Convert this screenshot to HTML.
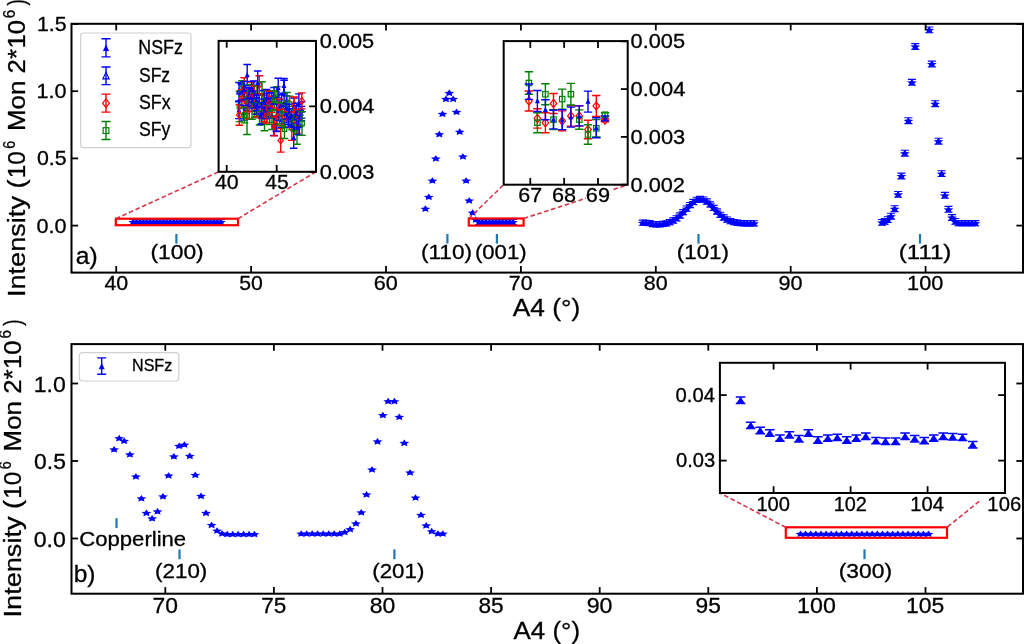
<!DOCTYPE html>
<html><head><meta charset="utf-8"><style>
html,body{margin:0;padding:0;background:#fff;}
svg{display:block;will-change:transform;}
text{font-family:"Liberation Sans", sans-serif;stroke:#000;stroke-width:0.3px;}
</style></head><body>
<svg width="1025" height="644" viewBox="0 0 1025 644">
<rect width="1025" height="644" fill="#fff"/>
<path d="M133.2,218.66 L134.73,220.83 L138.15,221.18 L135.67,222.86 L136.26,225.24 L133.2,224.12 L130.14,225.24 L130.73,222.86 L128.25,221.18 L131.67,220.83Z" fill="#0000ff"/>
<path d="M133.2,219.4V224.6M129.2,219.4H137.2M129.2,224.6H137.2" stroke="#0000ff" stroke-width="1.1" fill="none"/>
<path d="M136.57,218.66 L138.1,220.83 L141.52,221.18 L139.04,222.86 L139.63,225.24 L136.57,224.12 L133.51,225.24 L134.1,222.86 L131.62,221.18 L135.04,220.83Z" fill="#0000ff"/>
<path d="M136.57,219.4V224.6M132.57,219.4H140.57M132.57,224.6H140.57" stroke="#0000ff" stroke-width="1.1" fill="none"/>
<path d="M139.94,218.66 L141.47,220.83 L144.89,221.18 L142.41,222.86 L143,225.24 L139.94,224.12 L136.88,225.24 L137.47,222.86 L134.99,221.18 L138.41,220.83Z" fill="#0000ff"/>
<path d="M139.94,219.4V224.6M135.94,219.4H143.94M135.94,224.6H143.94" stroke="#0000ff" stroke-width="1.1" fill="none"/>
<path d="M143.31,218.66 L144.84,220.83 L148.26,221.18 L145.78,222.86 L146.37,225.24 L143.31,224.12 L140.25,225.24 L140.84,222.86 L138.36,221.18 L141.78,220.83Z" fill="#0000ff"/>
<path d="M143.31,219.4V224.6M139.31,219.4H147.31M139.31,224.6H147.31" stroke="#0000ff" stroke-width="1.1" fill="none"/>
<path d="M146.68,218.66 L148.21,220.83 L151.63,221.18 L149.15,222.86 L149.74,225.24 L146.68,224.12 L143.62,225.24 L144.21,222.86 L141.73,221.18 L145.15,220.83Z" fill="#0000ff"/>
<path d="M146.68,219.4V224.6M142.68,219.4H150.68M142.68,224.6H150.68" stroke="#0000ff" stroke-width="1.1" fill="none"/>
<path d="M150.05,218.66 L151.58,220.83 L155,221.18 L152.52,222.86 L153.11,225.24 L150.05,224.12 L146.99,225.24 L147.58,222.86 L145.1,221.18 L148.52,220.83Z" fill="#0000ff"/>
<path d="M150.05,219.4V224.6M146.05,219.4H154.05M146.05,224.6H154.05" stroke="#0000ff" stroke-width="1.1" fill="none"/>
<path d="M153.42,218.66 L154.95,220.83 L158.37,221.18 L155.89,222.86 L156.48,225.24 L153.42,224.12 L150.36,225.24 L150.95,222.86 L148.47,221.18 L151.89,220.83Z" fill="#0000ff"/>
<path d="M153.42,219.4V224.6M149.42,219.4H157.42M149.42,224.6H157.42" stroke="#0000ff" stroke-width="1.1" fill="none"/>
<path d="M156.79,218.66 L158.32,220.83 L161.74,221.18 L159.26,222.86 L159.85,225.24 L156.79,224.12 L153.73,225.24 L154.32,222.86 L151.84,221.18 L155.26,220.83Z" fill="#0000ff"/>
<path d="M156.79,219.4V224.6M152.79,219.4H160.79M152.79,224.6H160.79" stroke="#0000ff" stroke-width="1.1" fill="none"/>
<path d="M160.16,218.66 L161.69,220.83 L165.11,221.18 L162.63,222.86 L163.22,225.24 L160.16,224.12 L157.1,225.24 L157.69,222.86 L155.21,221.18 L158.63,220.83Z" fill="#0000ff"/>
<path d="M160.16,219.4V224.6M156.16,219.4H164.16M156.16,224.6H164.16" stroke="#0000ff" stroke-width="1.1" fill="none"/>
<path d="M163.53,218.66 L165.06,220.83 L168.48,221.18 L166,222.86 L166.59,225.24 L163.53,224.12 L160.47,225.24 L161.06,222.86 L158.58,221.18 L162,220.83Z" fill="#0000ff"/>
<path d="M163.53,219.4V224.6M159.53,219.4H167.53M159.53,224.6H167.53" stroke="#0000ff" stroke-width="1.1" fill="none"/>
<path d="M166.9,218.66 L168.43,220.83 L171.85,221.18 L169.37,222.86 L169.96,225.24 L166.9,224.12 L163.84,225.24 L164.43,222.86 L161.95,221.18 L165.37,220.83Z" fill="#0000ff"/>
<path d="M166.9,219.4V224.6M162.9,219.4H170.9M162.9,224.6H170.9" stroke="#0000ff" stroke-width="1.1" fill="none"/>
<path d="M170.27,218.66 L171.8,220.83 L175.22,221.18 L172.74,222.86 L173.33,225.24 L170.27,224.12 L167.21,225.24 L167.8,222.86 L165.32,221.18 L168.74,220.83Z" fill="#0000ff"/>
<path d="M170.27,219.4V224.6M166.27,219.4H174.27M166.27,224.6H174.27" stroke="#0000ff" stroke-width="1.1" fill="none"/>
<path d="M173.64,218.66 L175.17,220.83 L178.59,221.18 L176.11,222.86 L176.7,225.24 L173.64,224.12 L170.58,225.24 L171.17,222.86 L168.69,221.18 L172.11,220.83Z" fill="#0000ff"/>
<path d="M173.64,219.4V224.6M169.64,219.4H177.64M169.64,224.6H177.64" stroke="#0000ff" stroke-width="1.1" fill="none"/>
<path d="M177.01,218.66 L178.54,220.83 L181.96,221.18 L179.48,222.86 L180.07,225.24 L177.01,224.12 L173.95,225.24 L174.54,222.86 L172.06,221.18 L175.48,220.83Z" fill="#0000ff"/>
<path d="M177.01,219.4V224.6M173.01,219.4H181.01M173.01,224.6H181.01" stroke="#0000ff" stroke-width="1.1" fill="none"/>
<path d="M180.38,218.66 L181.91,220.83 L185.33,221.18 L182.85,222.86 L183.44,225.24 L180.38,224.12 L177.32,225.24 L177.91,222.86 L175.43,221.18 L178.85,220.83Z" fill="#0000ff"/>
<path d="M180.38,219.4V224.6M176.38,219.4H184.38M176.38,224.6H184.38" stroke="#0000ff" stroke-width="1.1" fill="none"/>
<path d="M183.75,218.66 L185.28,220.83 L188.7,221.18 L186.22,222.86 L186.81,225.24 L183.75,224.12 L180.69,225.24 L181.28,222.86 L178.8,221.18 L182.22,220.83Z" fill="#0000ff"/>
<path d="M183.75,219.4V224.6M179.75,219.4H187.75M179.75,224.6H187.75" stroke="#0000ff" stroke-width="1.1" fill="none"/>
<path d="M187.12,218.66 L188.65,220.83 L192.07,221.18 L189.59,222.86 L190.18,225.24 L187.12,224.12 L184.06,225.24 L184.65,222.86 L182.17,221.18 L185.59,220.83Z" fill="#0000ff"/>
<path d="M187.12,219.4V224.6M183.12,219.4H191.12M183.12,224.6H191.12" stroke="#0000ff" stroke-width="1.1" fill="none"/>
<path d="M190.49,218.66 L192.02,220.83 L195.44,221.18 L192.96,222.86 L193.55,225.24 L190.49,224.12 L187.43,225.24 L188.02,222.86 L185.54,221.18 L188.96,220.83Z" fill="#0000ff"/>
<path d="M190.49,219.4V224.6M186.49,219.4H194.49M186.49,224.6H194.49" stroke="#0000ff" stroke-width="1.1" fill="none"/>
<path d="M193.86,218.66 L195.39,220.83 L198.81,221.18 L196.33,222.86 L196.92,225.24 L193.86,224.12 L190.8,225.24 L191.39,222.86 L188.91,221.18 L192.33,220.83Z" fill="#0000ff"/>
<path d="M193.86,219.4V224.6M189.86,219.4H197.86M189.86,224.6H197.86" stroke="#0000ff" stroke-width="1.1" fill="none"/>
<path d="M197.23,218.66 L198.76,220.83 L202.18,221.18 L199.7,222.86 L200.29,225.24 L197.23,224.12 L194.17,225.24 L194.76,222.86 L192.28,221.18 L195.7,220.83Z" fill="#0000ff"/>
<path d="M197.23,219.4V224.6M193.23,219.4H201.23M193.23,224.6H201.23" stroke="#0000ff" stroke-width="1.1" fill="none"/>
<path d="M200.6,218.66 L202.13,220.83 L205.55,221.18 L203.07,222.86 L203.66,225.24 L200.6,224.12 L197.54,225.24 L198.13,222.86 L195.65,221.18 L199.07,220.83Z" fill="#0000ff"/>
<path d="M200.6,219.4V224.6M196.6,219.4H204.6M196.6,224.6H204.6" stroke="#0000ff" stroke-width="1.1" fill="none"/>
<path d="M203.97,218.66 L205.5,220.83 L208.92,221.18 L206.44,222.86 L207.03,225.24 L203.97,224.12 L200.91,225.24 L201.5,222.86 L199.02,221.18 L202.44,220.83Z" fill="#0000ff"/>
<path d="M203.97,219.4V224.6M199.97,219.4H207.97M199.97,224.6H207.97" stroke="#0000ff" stroke-width="1.1" fill="none"/>
<path d="M207.34,218.66 L208.87,220.83 L212.29,221.18 L209.81,222.86 L210.4,225.24 L207.34,224.12 L204.28,225.24 L204.87,222.86 L202.39,221.18 L205.81,220.83Z" fill="#0000ff"/>
<path d="M207.34,219.4V224.6M203.34,219.4H211.34M203.34,224.6H211.34" stroke="#0000ff" stroke-width="1.1" fill="none"/>
<path d="M210.71,218.66 L212.24,220.83 L215.66,221.18 L213.18,222.86 L213.77,225.24 L210.71,224.12 L207.65,225.24 L208.24,222.86 L205.76,221.18 L209.18,220.83Z" fill="#0000ff"/>
<path d="M210.71,219.4V224.6M206.71,219.4H214.71M206.71,224.6H214.71" stroke="#0000ff" stroke-width="1.1" fill="none"/>
<path d="M214.08,218.66 L215.61,220.83 L219.03,221.18 L216.55,222.86 L217.14,225.24 L214.08,224.12 L211.02,225.24 L211.61,222.86 L209.13,221.18 L212.55,220.83Z" fill="#0000ff"/>
<path d="M214.08,219.4V224.6M210.08,219.4H218.08M210.08,224.6H218.08" stroke="#0000ff" stroke-width="1.1" fill="none"/>
<path d="M217.45,218.66 L218.98,220.83 L222.4,221.18 L219.92,222.86 L220.51,225.24 L217.45,224.12 L214.39,225.24 L214.98,222.86 L212.5,221.18 L215.92,220.83Z" fill="#0000ff"/>
<path d="M217.45,219.4V224.6M213.45,219.4H221.45M213.45,224.6H221.45" stroke="#0000ff" stroke-width="1.1" fill="none"/>
<path d="M220.82,218.66 L222.35,220.83 L225.77,221.18 L223.29,222.86 L223.88,225.24 L220.82,224.12 L217.76,225.24 L218.35,222.86 L215.87,221.18 L219.29,220.83Z" fill="#0000ff"/>
<path d="M220.82,219.4V224.6M216.82,219.4H224.82M216.82,224.6H224.82" stroke="#0000ff" stroke-width="1.1" fill="none"/>
<path d="M425.4,205.36 L426.93,207.53 L430.35,207.88 L427.87,209.56 L428.46,211.94 L425.4,210.82 L422.34,211.94 L422.93,209.56 L420.45,207.88 L423.87,207.53Z" fill="#0000ff"/>
<path d="M428.8,193.46 L430.33,195.63 L433.75,195.98 L431.27,197.66 L431.86,200.04 L428.8,198.92 L425.74,200.04 L426.33,197.66 L423.85,195.98 L427.27,195.63Z" fill="#0000ff"/>
<path d="M432.4,177.26 L433.93,179.43 L437.35,179.78 L434.87,181.46 L435.46,183.84 L432.4,182.72 L429.34,183.84 L429.93,181.46 L427.45,179.78 L430.87,179.43Z" fill="#0000ff"/>
<path d="M435.8,155.16 L437.33,157.33 L440.75,157.68 L438.27,159.36 L438.86,161.74 L435.8,160.62 L432.74,161.74 L433.33,159.36 L430.85,157.68 L434.27,157.33Z" fill="#0000ff"/>
<path d="M439.3,130.86 L440.83,133.03 L444.25,133.38 L441.77,135.06 L442.36,137.44 L439.3,136.32 L436.24,137.44 L436.83,135.06 L434.35,133.38 L437.77,133.03Z" fill="#0000ff"/>
<path d="M442.5,110.46 L444.03,112.63 L447.45,112.98 L444.97,114.66 L445.56,117.04 L442.5,115.92 L439.44,117.04 L440.03,114.66 L437.55,112.98 L440.97,112.63Z" fill="#0000ff"/>
<path d="M446,95.56 L447.53,97.73 L450.95,98.08 L448.47,99.76 L449.06,102.14 L446,101.02 L442.94,102.14 L443.53,99.76 L441.05,98.08 L444.47,97.73Z" fill="#0000ff"/>
<path d="M449.3,89.56 L450.83,91.73 L454.25,92.08 L451.77,93.76 L452.36,96.14 L449.3,95.02 L446.24,96.14 L446.83,93.76 L444.35,92.08 L447.77,91.73Z" fill="#0000ff"/>
<path d="M453.2,95.56 L454.73,97.73 L458.15,98.08 L455.67,99.76 L456.26,102.14 L453.2,101.02 L450.14,102.14 L450.73,99.76 L448.25,98.08 L451.67,97.73Z" fill="#0000ff"/>
<path d="M456.5,108.46 L458.03,110.63 L461.45,110.98 L458.97,112.66 L459.56,115.04 L456.5,113.92 L453.44,115.04 L454.03,112.66 L451.55,110.98 L454.97,110.63Z" fill="#0000ff"/>
<path d="M459.7,128.36 L461.23,130.53 L464.65,130.88 L462.17,132.56 L462.76,134.94 L459.7,133.82 L456.64,134.94 L457.23,132.56 L454.75,130.88 L458.17,130.53Z" fill="#0000ff"/>
<path d="M462.9,153.16 L464.43,155.33 L467.85,155.68 L465.37,157.36 L465.96,159.74 L462.9,158.62 L459.84,159.74 L460.43,157.36 L457.95,155.68 L461.37,155.33Z" fill="#0000ff"/>
<path d="M466.1,177.26 L467.63,179.43 L471.05,179.78 L468.57,181.46 L469.16,183.84 L466.1,182.72 L463.04,183.84 L463.63,181.46 L461.15,179.78 L464.57,179.43Z" fill="#0000ff"/>
<path d="M469.2,197.16 L470.73,199.33 L474.15,199.68 L471.67,201.36 L472.26,203.74 L469.2,202.62 L466.14,203.74 L466.73,201.36 L464.25,199.68 L467.67,199.33Z" fill="#0000ff"/>
<path d="M472.6,209.26 L474.13,211.43 L477.55,211.78 L475.07,213.46 L475.66,215.84 L472.6,214.72 L469.54,215.84 L470.13,213.46 L467.65,211.78 L471.07,211.43Z" fill="#0000ff"/>
<path d="M475.8,216.26 L477.33,218.43 L480.75,218.78 L478.27,220.46 L478.86,222.84 L475.8,221.72 L472.74,222.84 L473.33,220.46 L470.85,218.78 L474.27,218.43Z" fill="#0000ff"/>
<path d="M479.2,218.66 L480.73,220.83 L484.15,221.18 L481.67,222.86 L482.26,225.24 L479.2,224.12 L476.14,225.24 L476.73,222.86 L474.25,221.18 L477.67,220.83Z" fill="#0000ff"/>
<path d="M479.2,219.4V224.6M475.2,219.4H483.2M475.2,224.6H483.2" stroke="#0000ff" stroke-width="1.1" fill="none"/>
<path d="M482.57,218.66 L484.1,220.83 L487.52,221.18 L485.04,222.86 L485.63,225.24 L482.57,224.12 L479.51,225.24 L480.1,222.86 L477.62,221.18 L481.04,220.83Z" fill="#0000ff"/>
<path d="M482.57,219.4V224.6M478.57,219.4H486.57M478.57,224.6H486.57" stroke="#0000ff" stroke-width="1.1" fill="none"/>
<path d="M485.94,218.66 L487.47,220.83 L490.89,221.18 L488.41,222.86 L489,225.24 L485.94,224.12 L482.88,225.24 L483.47,222.86 L480.99,221.18 L484.41,220.83Z" fill="#0000ff"/>
<path d="M485.94,219.4V224.6M481.94,219.4H489.94M481.94,224.6H489.94" stroke="#0000ff" stroke-width="1.1" fill="none"/>
<path d="M489.31,218.66 L490.84,220.83 L494.26,221.18 L491.78,222.86 L492.37,225.24 L489.31,224.12 L486.25,225.24 L486.84,222.86 L484.36,221.18 L487.78,220.83Z" fill="#0000ff"/>
<path d="M489.31,219.4V224.6M485.31,219.4H493.31M485.31,224.6H493.31" stroke="#0000ff" stroke-width="1.1" fill="none"/>
<path d="M492.68,218.66 L494.21,220.83 L497.63,221.18 L495.15,222.86 L495.74,225.24 L492.68,224.12 L489.62,225.24 L490.21,222.86 L487.73,221.18 L491.15,220.83Z" fill="#0000ff"/>
<path d="M492.68,219.4V224.6M488.68,219.4H496.68M488.68,224.6H496.68" stroke="#0000ff" stroke-width="1.1" fill="none"/>
<path d="M496.05,218.66 L497.58,220.83 L501,221.18 L498.52,222.86 L499.11,225.24 L496.05,224.12 L492.99,225.24 L493.58,222.86 L491.1,221.18 L494.52,220.83Z" fill="#0000ff"/>
<path d="M496.05,219.4V224.6M492.05,219.4H500.05M492.05,224.6H500.05" stroke="#0000ff" stroke-width="1.1" fill="none"/>
<path d="M499.42,218.66 L500.95,220.83 L504.37,221.18 L501.89,222.86 L502.48,225.24 L499.42,224.12 L496.36,225.24 L496.95,222.86 L494.47,221.18 L497.89,220.83Z" fill="#0000ff"/>
<path d="M499.42,219.4V224.6M495.42,219.4H503.42M495.42,224.6H503.42" stroke="#0000ff" stroke-width="1.1" fill="none"/>
<path d="M502.79,218.66 L504.32,220.83 L507.74,221.18 L505.26,222.86 L505.85,225.24 L502.79,224.12 L499.73,225.24 L500.32,222.86 L497.84,221.18 L501.26,220.83Z" fill="#0000ff"/>
<path d="M502.79,219.4V224.6M498.79,219.4H506.79M498.79,224.6H506.79" stroke="#0000ff" stroke-width="1.1" fill="none"/>
<path d="M506.16,218.66 L507.69,220.83 L511.11,221.18 L508.63,222.86 L509.22,225.24 L506.16,224.12 L503.1,225.24 L503.69,222.86 L501.21,221.18 L504.63,220.83Z" fill="#0000ff"/>
<path d="M506.16,219.4V224.6M502.16,219.4H510.16M502.16,224.6H510.16" stroke="#0000ff" stroke-width="1.1" fill="none"/>
<path d="M509.53,218.66 L511.06,220.83 L514.48,221.18 L512,222.86 L512.59,225.24 L509.53,224.12 L506.47,225.24 L507.06,222.86 L504.58,221.18 L508,220.83Z" fill="#0000ff"/>
<path d="M509.53,219.4V224.6M505.53,219.4H513.53M505.53,224.6H513.53" stroke="#0000ff" stroke-width="1.1" fill="none"/>
<path d="M512.9,218.66 L514.43,220.83 L517.85,221.18 L515.37,222.86 L515.96,225.24 L512.9,224.12 L509.84,225.24 L510.43,222.86 L507.95,221.18 L511.37,220.83Z" fill="#0000ff"/>
<path d="M512.9,219.4V224.6M508.9,219.4H516.9M508.9,224.6H516.9" stroke="#0000ff" stroke-width="1.1" fill="none"/>
<path d="M642.8,219.38 L644.33,221.55 L647.75,221.89 L645.27,223.58 L645.86,225.96 L642.8,224.84 L639.74,225.96 L640.33,223.58 L637.85,221.89 L641.27,221.55Z" fill="#0000ff"/>
<path d="M642.8,220.12V225.32M638.8,220.12H646.8M638.8,225.32H646.8" stroke="#0000ff" stroke-width="1.1" fill="none"/>
<path d="M646.17,219.5 L647.7,221.67 L651.12,222.02 L648.64,223.71 L649.23,226.09 L646.17,224.96 L643.11,226.09 L643.7,223.71 L641.22,222.02 L644.64,221.67Z" fill="#0000ff"/>
<path d="M646.17,220.24V225.44M642.17,220.24H650.17M642.17,225.44H650.17" stroke="#0000ff" stroke-width="1.1" fill="none"/>
<path d="M649.54,219.69 L651.07,221.86 L654.49,222.21 L652.01,223.9 L652.6,226.28 L649.54,225.15 L646.48,226.28 L647.07,223.9 L644.59,222.21 L648.01,221.86Z" fill="#0000ff"/>
<path d="M649.54,220.43V225.63M645.54,220.43H653.54M645.54,225.63H653.54" stroke="#0000ff" stroke-width="1.1" fill="none"/>
<path d="M652.91,220.72 L654.44,222.88 L657.86,223.23 L655.38,224.92 L655.97,227.3 L652.91,226.18 L649.85,227.3 L650.44,224.92 L647.96,223.23 L651.38,222.88Z" fill="#0000ff"/>
<path d="M652.91,221.46V226.66M648.91,221.46H656.91M648.91,226.66H656.91" stroke="#0000ff" stroke-width="1.1" fill="none"/>
<path d="M656.28,220.89 L657.81,223.06 L661.23,223.41 L658.75,225.1 L659.34,227.48 L656.28,226.35 L653.22,227.48 L653.81,225.1 L651.33,223.41 L654.75,223.06Z" fill="#0000ff"/>
<path d="M656.28,221.63V226.83M652.28,221.63H660.28M652.28,226.83H660.28" stroke="#0000ff" stroke-width="1.1" fill="none"/>
<path d="M659.65,220.91 L661.18,223.08 L664.6,223.42 L662.12,225.11 L662.71,227.49 L659.65,226.37 L656.59,227.49 L657.18,225.11 L654.7,223.42 L658.12,223.08Z" fill="#0000ff"/>
<path d="M659.65,221.65V226.85M655.65,221.65H663.65M655.65,226.85H663.65" stroke="#0000ff" stroke-width="1.1" fill="none"/>
<path d="M663.02,220.63 L664.55,222.8 L667.97,223.14 L665.49,224.83 L666.08,227.21 L663.02,226.09 L659.96,227.21 L660.55,224.83 L658.07,223.14 L661.49,222.8Z" fill="#0000ff"/>
<path d="M663.02,221.37V226.57M659.02,221.37H667.02M659.02,226.57H667.02" stroke="#0000ff" stroke-width="1.1" fill="none"/>
<path d="M666.39,219.95 L667.92,222.12 L671.34,222.47 L668.86,224.16 L669.45,226.54 L666.39,225.41 L663.33,226.54 L663.92,224.16 L661.44,222.47 L664.86,222.12Z" fill="#0000ff"/>
<path d="M666.39,220.69V225.89M662.39,220.69H670.39M662.39,225.89H670.39" stroke="#0000ff" stroke-width="1.1" fill="none"/>
<path d="M669.76,218.81 L671.29,220.98 L674.71,221.33 L672.23,223.02 L672.82,225.4 L669.76,224.27 L666.7,225.4 L667.29,223.02 L664.81,221.33 L668.23,220.98Z" fill="#0000ff"/>
<path d="M669.76,219.55V224.75M665.76,219.55H673.76M665.76,224.75H673.76" stroke="#0000ff" stroke-width="1.1" fill="none"/>
<path d="M673.13,217.16 L674.66,219.32 L678.08,219.67 L675.6,221.36 L676.19,223.74 L673.13,222.62 L670.07,223.74 L670.66,221.36 L668.18,219.67 L671.6,219.32Z" fill="#0000ff"/>
<path d="M673.13,217.9V223.1M669.13,217.9H677.13M669.13,223.1H677.13" stroke="#0000ff" stroke-width="1.1" fill="none"/>
<path d="M676.5,214.94 L678.03,217.11 L681.45,217.46 L678.97,219.14 L679.56,221.53 L676.5,220.4 L673.44,221.53 L674.03,219.14 L671.55,217.46 L674.97,217.11Z" fill="#0000ff"/>
<path d="M676.5,215.68V220.88M672.5,215.68H680.5M672.5,220.88H680.5" stroke="#0000ff" stroke-width="1.1" fill="none"/>
<path d="M679.87,212.16 L681.4,214.33 L684.82,214.67 L682.34,216.36 L682.93,218.74 L679.87,217.62 L676.81,218.74 L677.4,216.36 L674.92,214.67 L678.34,214.33Z" fill="#0000ff"/>
<path d="M679.87,212.9V218.1M675.87,212.9H683.87M675.87,218.1H683.87" stroke="#0000ff" stroke-width="1.1" fill="none"/>
<path d="M683.24,208.87 L684.77,211.04 L688.19,211.39 L685.71,213.07 L686.3,215.46 L683.24,214.33 L680.18,215.46 L680.77,213.07 L678.29,211.39 L681.71,211.04Z" fill="#0000ff"/>
<path d="M683.24,209.61V214.81M679.24,209.61H687.24M679.24,214.81H687.24" stroke="#0000ff" stroke-width="1.1" fill="none"/>
<path d="M686.61,205.28 L688.14,207.45 L691.56,207.79 L689.08,209.48 L689.67,211.86 L686.61,210.74 L683.55,211.86 L684.14,209.48 L681.66,207.79 L685.08,207.45Z" fill="#0000ff"/>
<path d="M686.61,206.02V211.22M682.61,206.02H690.61M682.61,211.22H690.61" stroke="#0000ff" stroke-width="1.1" fill="none"/>
<path d="M689.98,201.72 L691.51,203.89 L694.93,204.24 L692.45,205.92 L693.04,208.31 L689.98,207.18 L686.92,208.31 L687.51,205.92 L685.03,204.24 L688.45,203.89Z" fill="#0000ff"/>
<path d="M689.98,202.46V207.66M685.98,202.46H693.98M685.98,207.66H693.98" stroke="#0000ff" stroke-width="1.1" fill="none"/>
<path d="M693.35,198.65 L694.88,200.82 L698.3,201.16 L695.82,202.85 L696.41,205.23 L693.35,204.11 L690.29,205.23 L690.88,202.85 L688.4,201.16 L691.82,200.82Z" fill="#0000ff"/>
<path d="M693.35,199.39V204.59M689.35,199.39H697.35M689.35,204.59H697.35" stroke="#0000ff" stroke-width="1.1" fill="none"/>
<path d="M696.72,196.51 L698.25,198.68 L701.67,199.03 L699.19,200.72 L699.78,203.1 L696.72,201.97 L693.66,203.1 L694.25,200.72 L691.77,199.03 L695.19,198.68Z" fill="#0000ff"/>
<path d="M696.72,197.25V202.45M692.72,197.25H700.72M692.72,202.45H700.72" stroke="#0000ff" stroke-width="1.1" fill="none"/>
<path d="M700.09,195.67 L701.62,197.83 L705.04,198.18 L702.56,199.87 L703.15,202.25 L700.09,201.13 L697.03,202.25 L697.62,199.87 L695.14,198.18 L698.56,197.83Z" fill="#0000ff"/>
<path d="M700.09,196.41V201.61M696.09,196.41H704.09M696.09,201.61H704.09" stroke="#0000ff" stroke-width="1.1" fill="none"/>
<path d="M703.46,196.25 L704.99,198.42 L708.41,198.77 L705.93,200.45 L706.52,202.84 L703.46,201.71 L700.4,202.84 L700.99,200.45 L698.51,198.77 L701.93,198.42Z" fill="#0000ff"/>
<path d="M703.46,196.99V202.19M699.46,196.99H707.46M699.46,202.19H707.46" stroke="#0000ff" stroke-width="1.1" fill="none"/>
<path d="M706.83,198.17 L708.36,200.34 L711.78,200.69 L709.3,202.37 L709.89,204.75 L706.83,203.63 L703.77,204.75 L704.36,202.37 L701.88,200.69 L705.3,200.34Z" fill="#0000ff"/>
<path d="M706.83,198.91V204.11M702.83,198.91H710.83M702.83,204.11H710.83" stroke="#0000ff" stroke-width="1.1" fill="none"/>
<path d="M710.2,201.1 L711.73,203.27 L715.15,203.61 L712.67,205.3 L713.26,207.68 L710.2,206.56 L707.14,207.68 L707.73,205.3 L705.25,203.61 L708.67,203.27Z" fill="#0000ff"/>
<path d="M710.2,201.84V207.04M706.2,201.84H714.2M706.2,207.04H714.2" stroke="#0000ff" stroke-width="1.1" fill="none"/>
<path d="M713.57,204.59 L715.1,206.75 L718.52,207.1 L716.04,208.79 L716.63,211.17 L713.57,210.05 L710.51,211.17 L711.1,208.79 L708.62,207.1 L712.04,206.75Z" fill="#0000ff"/>
<path d="M713.57,205.33V210.53M709.57,205.33H717.57M709.57,210.53H717.57" stroke="#0000ff" stroke-width="1.1" fill="none"/>
<path d="M716.94,208.16 L718.47,210.33 L721.89,210.68 L719.41,212.36 L720,214.75 L716.94,213.62 L713.88,214.75 L714.47,212.36 L711.99,210.68 L715.41,210.33Z" fill="#0000ff"/>
<path d="M716.94,208.9V214.1M712.94,208.9H720.94M712.94,214.1H720.94" stroke="#0000ff" stroke-width="1.1" fill="none"/>
<path d="M720.31,211.44 L721.84,213.61 L725.26,213.96 L722.78,215.64 L723.37,218.03 L720.31,216.9 L717.25,218.03 L717.84,215.64 L715.36,213.96 L718.78,213.61Z" fill="#0000ff"/>
<path d="M720.31,212.18V217.38M716.31,212.18H724.31M716.31,217.38H724.31" stroke="#0000ff" stroke-width="1.1" fill="none"/>
<path d="M723.68,214.18 L725.21,216.35 L728.63,216.69 L726.15,218.38 L726.74,220.76 L723.68,219.64 L720.62,220.76 L721.21,218.38 L718.73,216.69 L722.15,216.35Z" fill="#0000ff"/>
<path d="M723.68,214.92V220.12M719.68,214.92H727.68M719.68,220.12H727.68" stroke="#0000ff" stroke-width="1.1" fill="none"/>
<path d="M727.05,216.28 L728.58,218.45 L732,218.79 L729.52,220.48 L730.11,222.86 L727.05,221.74 L723.99,222.86 L724.58,220.48 L722.1,218.79 L725.52,218.45Z" fill="#0000ff"/>
<path d="M727.05,217.02V222.22M723.05,217.02H731.05M723.05,222.22H731.05" stroke="#0000ff" stroke-width="1.1" fill="none"/>
<path d="M730.42,217.77 L731.95,219.94 L735.37,220.29 L732.89,221.97 L733.48,224.35 L730.42,223.23 L727.36,224.35 L727.95,221.97 L725.47,220.29 L728.89,219.94Z" fill="#0000ff"/>
<path d="M730.42,218.51V223.71M726.42,218.51H734.42M726.42,223.71H734.42" stroke="#0000ff" stroke-width="1.1" fill="none"/>
<path d="M733.79,218.75 L735.32,220.92 L738.74,221.27 L736.26,222.96 L736.85,225.34 L733.79,224.21 L730.73,225.34 L731.32,222.96 L728.84,221.27 L732.26,220.92Z" fill="#0000ff"/>
<path d="M733.79,219.49V224.69M729.79,219.49H737.79M729.79,224.69H737.79" stroke="#0000ff" stroke-width="1.1" fill="none"/>
<path d="M737.16,219.36 L738.69,221.53 L742.11,221.87 L739.63,223.56 L740.22,225.94 L737.16,224.82 L734.1,225.94 L734.69,223.56 L732.21,221.87 L735.63,221.53Z" fill="#0000ff"/>
<path d="M737.16,220.1V225.3M733.16,220.1H741.16M733.16,225.3H741.16" stroke="#0000ff" stroke-width="1.1" fill="none"/>
<path d="M740.53,219.7 L742.06,221.87 L745.48,222.22 L743,223.91 L743.59,226.29 L740.53,225.16 L737.47,226.29 L738.06,223.91 L735.58,222.22 L739,221.87Z" fill="#0000ff"/>
<path d="M740.53,220.44V225.64M736.53,220.44H744.53M736.53,225.64H744.53" stroke="#0000ff" stroke-width="1.1" fill="none"/>
<path d="M743.9,219.89 L745.43,222.06 L748.85,222.41 L746.37,224.09 L746.96,226.48 L743.9,225.35 L740.84,226.48 L741.43,224.09 L738.95,222.41 L742.37,222.06Z" fill="#0000ff"/>
<path d="M743.9,220.63V225.83M739.9,220.63H747.9M739.9,225.83H747.9" stroke="#0000ff" stroke-width="1.1" fill="none"/>
<path d="M747.27,219.98 L748.8,222.15 L752.22,222.5 L749.74,224.19 L750.33,226.57 L747.27,225.44 L744.21,226.57 L744.8,224.19 L742.32,222.5 L745.74,222.15Z" fill="#0000ff"/>
<path d="M747.27,220.72V225.92M743.27,220.72H751.27M743.27,225.92H751.27" stroke="#0000ff" stroke-width="1.1" fill="none"/>
<path d="M750.64,220.03 L752.17,222.2 L755.59,222.54 L753.11,224.23 L753.7,226.61 L750.64,225.49 L747.58,226.61 L748.17,224.23 L745.69,222.54 L749.11,222.2Z" fill="#0000ff"/>
<path d="M750.64,220.77V225.97M746.64,220.77H754.64M746.64,225.97H754.64" stroke="#0000ff" stroke-width="1.1" fill="none"/>
<path d="M754.01,220.05 L755.54,222.21 L758.96,222.56 L756.48,224.25 L757.07,226.63 L754.01,225.51 L750.95,226.63 L751.54,224.25 L749.06,222.56 L752.48,222.21Z" fill="#0000ff"/>
<path d="M754.01,220.79V225.99M750.01,220.79H758.01M750.01,225.99H758.01" stroke="#0000ff" stroke-width="1.1" fill="none"/>
<path d="M882,219.06 L883.53,221.23 L886.95,221.58 L884.47,223.26 L885.06,225.64 L882,224.52 L878.94,225.64 L879.53,223.26 L877.05,221.58 L880.47,221.23Z" fill="#0000ff"/>
<path d="M882,219.5V225.3M878,219.5H886M878,225.3H886" stroke="#0000ff" stroke-width="1.1" fill="none"/>
<path d="M884.8,218.06 L886.33,220.23 L889.75,220.58 L887.27,222.26 L887.86,224.64 L884.8,223.52 L881.74,224.64 L882.33,222.26 L879.85,220.58 L883.27,220.23Z" fill="#0000ff"/>
<path d="M884.8,218.5V224.3M880.8,218.5H888.8M880.8,224.3H888.8" stroke="#0000ff" stroke-width="1.1" fill="none"/>
<path d="M887.8,216.26 L889.33,218.43 L892.75,218.78 L890.27,220.46 L890.86,222.84 L887.8,221.72 L884.74,222.84 L885.33,220.46 L882.85,218.78 L886.27,218.43Z" fill="#0000ff"/>
<path d="M887.8,216.7V222.5M883.8,216.7H891.8M883.8,222.5H891.8" stroke="#0000ff" stroke-width="1.1" fill="none"/>
<path d="M891,212.86 L892.53,215.03 L895.95,215.38 L893.47,217.06 L894.06,219.44 L891,218.32 L887.94,219.44 L888.53,217.06 L886.05,215.38 L889.47,215.03Z" fill="#0000ff"/>
<path d="M891,213.3V219.1M887,213.3H895M887,219.1H895" stroke="#0000ff" stroke-width="1.1" fill="none"/>
<path d="M894.6,205.36 L896.13,207.53 L899.55,207.88 L897.07,209.56 L897.66,211.94 L894.6,210.82 L891.54,211.94 L892.13,209.56 L889.65,207.88 L893.07,207.53Z" fill="#0000ff"/>
<path d="M894.6,205.8V211.6M890.6,205.8H898.6M890.6,211.6H898.6" stroke="#0000ff" stroke-width="1.1" fill="none"/>
<path d="M898.1,191.06 L899.63,193.23 L903.05,193.58 L900.57,195.26 L901.16,197.64 L898.1,196.52 L895.04,197.64 L895.63,195.26 L893.15,193.58 L896.57,193.23Z" fill="#0000ff"/>
<path d="M898.1,191.5V197.3M894.1,191.5H902.1M894.1,197.3H902.1" stroke="#0000ff" stroke-width="1.1" fill="none"/>
<path d="M901.4,172.66 L902.93,174.83 L906.35,175.18 L903.87,176.86 L904.46,179.24 L901.4,178.12 L898.34,179.24 L898.93,176.86 L896.45,175.18 L899.87,174.83Z" fill="#0000ff"/>
<path d="M901.4,173.1V178.9M897.4,173.1H905.4M897.4,178.9H905.4" stroke="#0000ff" stroke-width="1.1" fill="none"/>
<path d="M904.8,149.86 L906.33,152.03 L909.75,152.38 L907.27,154.06 L907.86,156.44 L904.8,155.32 L901.74,156.44 L902.33,154.06 L899.85,152.38 L903.27,152.03Z" fill="#0000ff"/>
<path d="M904.8,150.3V156.1M900.8,150.3H908.8M900.8,156.1H908.8" stroke="#0000ff" stroke-width="1.1" fill="none"/>
<path d="M908.4,117.36 L909.93,119.53 L913.35,119.88 L910.87,121.56 L911.46,123.94 L908.4,122.82 L905.34,123.94 L905.93,121.56 L903.45,119.88 L906.87,119.53Z" fill="#0000ff"/>
<path d="M908.4,117.8V123.6M904.4,117.8H912.4M904.4,123.6H912.4" stroke="#0000ff" stroke-width="1.1" fill="none"/>
<path d="M911.9,78.96 L913.43,81.13 L916.85,81.48 L914.37,83.16 L914.96,85.54 L911.9,84.42 L908.84,85.54 L909.43,83.16 L906.95,81.48 L910.37,81.13Z" fill="#0000ff"/>
<path d="M911.9,79.4V85.2M907.9,79.4H915.9M907.9,85.2H915.9" stroke="#0000ff" stroke-width="1.1" fill="none"/>
<path d="M915.3,43.16 L916.83,45.33 L920.25,45.68 L917.77,47.36 L918.36,49.74 L915.3,48.62 L912.24,49.74 L912.83,47.36 L910.35,45.68 L913.77,45.33Z" fill="#0000ff"/>
<path d="M915.3,43.6V49.4M911.3,43.6H919.3M911.3,49.4H919.3" stroke="#0000ff" stroke-width="1.1" fill="none"/>
<path d="M929.3,26.56 L930.83,28.73 L934.25,29.08 L931.77,30.76 L932.36,33.14 L929.3,32.02 L926.24,33.14 L926.83,30.76 L924.35,29.08 L927.77,28.73Z" fill="#0000ff"/>
<path d="M929.3,27V32.8M925.3,27H933.3M925.3,32.8H933.3" stroke="#0000ff" stroke-width="1.1" fill="none"/>
<path d="M931.8,60.66 L933.33,62.83 L936.75,63.18 L934.27,64.86 L934.86,67.24 L931.8,66.12 L928.74,67.24 L929.33,64.86 L926.85,63.18 L930.27,62.83Z" fill="#0000ff"/>
<path d="M931.8,61.1V66.9M927.8,61.1H935.8M927.8,66.9H935.8" stroke="#0000ff" stroke-width="1.1" fill="none"/>
<path d="M935.2,100.36 L936.73,102.53 L940.15,102.88 L937.67,104.56 L938.26,106.94 L935.2,105.82 L932.14,106.94 L932.73,104.56 L930.25,102.88 L933.67,102.53Z" fill="#0000ff"/>
<path d="M935.2,100.8V106.6M931.2,100.8H939.2M931.2,106.6H939.2" stroke="#0000ff" stroke-width="1.1" fill="none"/>
<path d="M938.5,137.86 L940.03,140.03 L943.45,140.38 L940.97,142.06 L941.56,144.44 L938.5,143.32 L935.44,144.44 L936.03,142.06 L933.55,140.38 L936.97,140.03Z" fill="#0000ff"/>
<path d="M938.5,138.3V144.1M934.5,138.3H942.5M934.5,144.1H942.5" stroke="#0000ff" stroke-width="1.1" fill="none"/>
<path d="M941.6,170.26 L943.13,172.43 L946.55,172.78 L944.07,174.46 L944.66,176.84 L941.6,175.72 L938.54,176.84 L939.13,174.46 L936.65,172.78 L940.07,172.43Z" fill="#0000ff"/>
<path d="M941.6,170.7V176.5M937.6,170.7H945.6M937.6,176.5H945.6" stroke="#0000ff" stroke-width="1.1" fill="none"/>
<path d="M944.9,191.96 L946.43,194.13 L949.85,194.48 L947.37,196.16 L947.96,198.54 L944.9,197.42 L941.84,198.54 L942.43,196.16 L939.95,194.48 L943.37,194.13Z" fill="#0000ff"/>
<path d="M944.9,192.4V198.2M940.9,192.4H948.9M940.9,198.2H948.9" stroke="#0000ff" stroke-width="1.1" fill="none"/>
<path d="M948.5,205.96 L950.03,208.13 L953.45,208.48 L950.97,210.16 L951.56,212.54 L948.5,211.42 L945.44,212.54 L946.03,210.16 L943.55,208.48 L946.97,208.13Z" fill="#0000ff"/>
<path d="M948.5,206.4V212.2M944.5,206.4H952.5M944.5,212.2H952.5" stroke="#0000ff" stroke-width="1.1" fill="none"/>
<path d="M952,214.16 L953.53,216.33 L956.95,216.68 L954.47,218.36 L955.06,220.74 L952,219.62 L948.94,220.74 L949.53,218.36 L947.05,216.68 L950.47,216.33Z" fill="#0000ff"/>
<path d="M952,214.6V220.4M948,214.6H956M948,220.4H956" stroke="#0000ff" stroke-width="1.1" fill="none"/>
<path d="M955.3,218.06 L956.83,220.23 L960.25,220.58 L957.77,222.26 L958.36,224.64 L955.3,223.52 L952.24,224.64 L952.83,222.26 L950.35,220.58 L953.77,220.23Z" fill="#0000ff"/>
<path d="M955.3,218.5V224.3M951.3,218.5H959.3M951.3,224.3H959.3" stroke="#0000ff" stroke-width="1.1" fill="none"/>
<path d="M958.4,219.86 L959.93,222.03 L963.35,222.38 L960.87,224.06 L961.46,226.44 L958.4,225.32 L955.34,226.44 L955.93,224.06 L953.45,222.38 L956.87,222.03Z" fill="#0000ff"/>
<path d="M958.4,220.6V225.8M954.4,220.6H962.4M954.4,225.8H962.4" stroke="#0000ff" stroke-width="1.1" fill="none"/>
<path d="M961.8,219.86 L963.33,222.03 L966.75,222.38 L964.27,224.06 L964.86,226.44 L961.8,225.32 L958.74,226.44 L959.33,224.06 L956.85,222.38 L960.27,222.03Z" fill="#0000ff"/>
<path d="M961.8,220.6V225.8M957.8,220.6H965.8M957.8,225.8H965.8" stroke="#0000ff" stroke-width="1.1" fill="none"/>
<path d="M965.2,219.86 L966.73,222.03 L970.15,222.38 L967.67,224.06 L968.26,226.44 L965.2,225.32 L962.14,226.44 L962.73,224.06 L960.25,222.38 L963.67,222.03Z" fill="#0000ff"/>
<path d="M965.2,220.6V225.8M961.2,220.6H969.2M961.2,225.8H969.2" stroke="#0000ff" stroke-width="1.1" fill="none"/>
<path d="M968.6,219.86 L970.13,222.03 L973.55,222.38 L971.07,224.06 L971.66,226.44 L968.6,225.32 L965.54,226.44 L966.13,224.06 L963.65,222.38 L967.07,222.03Z" fill="#0000ff"/>
<path d="M968.6,220.6V225.8M964.6,220.6H972.6M964.6,225.8H972.6" stroke="#0000ff" stroke-width="1.1" fill="none"/>
<path d="M972,219.86 L973.53,222.03 L976.95,222.38 L974.47,224.06 L975.06,226.44 L972,225.32 L968.94,226.44 L969.53,224.06 L967.05,222.38 L970.47,222.03Z" fill="#0000ff"/>
<path d="M972,220.6V225.8M968,220.6H976M968,225.8H976" stroke="#0000ff" stroke-width="1.1" fill="none"/>
<path d="M975.4,219.86 L976.93,222.03 L980.35,222.38 L977.87,224.06 L978.46,226.44 L975.4,225.32 L972.34,226.44 L972.93,224.06 L970.45,222.38 L973.87,222.03Z" fill="#0000ff"/>
<path d="M975.4,220.6V225.8M971.4,220.6H979.4M971.4,225.8H979.4" stroke="#0000ff" stroke-width="1.1" fill="none"/>
<rect x="115.8" y="218.7" width="122.2" height="6.5" stroke="#ff0000" stroke-width="2.2" fill="none"/>
<rect x="468.8" y="218.5" width="54.8" height="7.1" stroke="#ff0000" stroke-width="2.2" fill="none"/>
<line x1="115.8" y1="218.7" x2="218.6" y2="171.8" stroke="#d5364a" stroke-width="1.6" stroke-dasharray="4.6,2.6"/>
<line x1="238" y1="218.7" x2="316" y2="171.8" stroke="#d5364a" stroke-width="1.6" stroke-dasharray="4.6,2.6"/>
<line x1="468.8" y1="218.5" x2="503.7" y2="184.7" stroke="#d5364a" stroke-width="1.6" stroke-dasharray="4.6,2.6"/>
<line x1="523.6" y1="218.5" x2="586" y2="198.3" stroke="#d5364a" stroke-width="1.6" stroke-dasharray="4.6,2.6"/>
<line x1="613.5" y1="189.4" x2="627.7" y2="184.7" stroke="#d5364a" stroke-width="1.6" stroke-dasharray="4.6,2.6"/>
<line x1="176.4" y1="234" x2="176.4" y2="243.6" stroke="#1f77b4" stroke-width="2.2"/>
<text x="150.49" y="258.8" font-size="20.6" textLength="53.23" lengthAdjust="spacingAndGlyphs" fill="#000">(100)</text>
<line x1="447.4" y1="234" x2="447.4" y2="243.6" stroke="#1f77b4" stroke-width="2.2"/>
<text x="420.94" y="258.8" font-size="20.6" textLength="51.01" lengthAdjust="spacingAndGlyphs" fill="#000">(110)</text>
<line x1="496.9" y1="234" x2="496.9" y2="243.6" stroke="#1f77b4" stroke-width="2.2"/>
<text x="474.93" y="258.8" font-size="20.6" textLength="51.64" lengthAdjust="spacingAndGlyphs" fill="#000">(001)</text>
<line x1="698.5" y1="234" x2="698.5" y2="243.6" stroke="#1f77b4" stroke-width="2.2"/>
<text x="676.81" y="258.8" font-size="20.6" textLength="52.17" lengthAdjust="spacingAndGlyphs" fill="#000">(101)</text>
<line x1="920" y1="234" x2="920" y2="243.6" stroke="#1f77b4" stroke-width="2.2"/>
<text x="898.8" y="258.8" font-size="20.6" textLength="52.59" lengthAdjust="spacingAndGlyphs" fill="#000">(111)</text>
<rect x="71.5" y="23.8" width="951.5" height="248.8" stroke="#000" stroke-width="2" fill="none"/>
<line x1="116.2" y1="272.6" x2="116.2" y2="266" stroke="#000" stroke-width="1.8"/>
<line x1="116.2" y1="23.8" x2="116.2" y2="30.4" stroke="#000" stroke-width="1.8"/>
<text x="104.46" y="290.3" font-size="20.6" textLength="23.82" lengthAdjust="spacingAndGlyphs" fill="#000">40</text>
<line x1="251.1" y1="272.6" x2="251.1" y2="266" stroke="#000" stroke-width="1.8"/>
<line x1="251.1" y1="23.8" x2="251.1" y2="30.4" stroke="#000" stroke-width="1.8"/>
<text x="239.28" y="290.3" font-size="20.6" textLength="23.63" lengthAdjust="spacingAndGlyphs" fill="#000">50</text>
<line x1="386" y1="272.6" x2="386" y2="266" stroke="#000" stroke-width="1.8"/>
<line x1="386" y1="23.8" x2="386" y2="30.4" stroke="#000" stroke-width="1.8"/>
<text x="373.86" y="290.3" font-size="20.6" textLength="24.03" lengthAdjust="spacingAndGlyphs" fill="#000">60</text>
<line x1="520.9" y1="272.6" x2="520.9" y2="266" stroke="#000" stroke-width="1.8"/>
<line x1="520.9" y1="23.8" x2="520.9" y2="30.4" stroke="#000" stroke-width="1.8"/>
<text x="508.88" y="290.3" font-size="20.6" textLength="23.78" lengthAdjust="spacingAndGlyphs" fill="#000">70</text>
<line x1="655.8" y1="272.6" x2="655.8" y2="266" stroke="#000" stroke-width="1.8"/>
<line x1="655.8" y1="23.8" x2="655.8" y2="30.4" stroke="#000" stroke-width="1.8"/>
<text x="643.8" y="290.3" font-size="20.6" textLength="23.9" lengthAdjust="spacingAndGlyphs" fill="#000">80</text>
<line x1="790.7" y1="272.6" x2="790.7" y2="266" stroke="#000" stroke-width="1.8"/>
<line x1="790.7" y1="23.8" x2="790.7" y2="30.4" stroke="#000" stroke-width="1.8"/>
<text x="778.57" y="290.3" font-size="20.6" textLength="24.08" lengthAdjust="spacingAndGlyphs" fill="#000">90</text>
<line x1="925.6" y1="272.6" x2="925.6" y2="266" stroke="#000" stroke-width="1.8"/>
<line x1="925.6" y1="23.8" x2="925.6" y2="30.4" stroke="#000" stroke-width="1.8"/>
<text x="907.11" y="290.3" font-size="20.6" textLength="36.18" lengthAdjust="spacingAndGlyphs" fill="#000">100</text>
<line x1="71.5" y1="225.6" x2="78.1" y2="225.6" stroke="#000" stroke-width="1.8"/>
<line x1="1023" y1="225.6" x2="1016.4" y2="225.6" stroke="#000" stroke-width="1.8"/>
<text x="36.51" y="232.6" font-size="20.6" textLength="30.03" lengthAdjust="spacingAndGlyphs" fill="#000">0.0</text>
<line x1="71.5" y1="158.4" x2="78.1" y2="158.4" stroke="#000" stroke-width="1.8"/>
<line x1="1023" y1="158.4" x2="1016.4" y2="158.4" stroke="#000" stroke-width="1.8"/>
<text x="36.93" y="165.4" font-size="20.6" textLength="29.67" lengthAdjust="spacingAndGlyphs" fill="#000">0.5</text>
<line x1="71.5" y1="91.2" x2="78.1" y2="91.2" stroke="#000" stroke-width="1.8"/>
<line x1="1023" y1="91.2" x2="1016.4" y2="91.2" stroke="#000" stroke-width="1.8"/>
<text x="36.57" y="98.2" font-size="20.6" textLength="29.97" lengthAdjust="spacingAndGlyphs" fill="#000">1.0</text>
<line x1="71.5" y1="24" x2="78.1" y2="24" stroke="#000" stroke-width="1.8"/>
<line x1="1023" y1="24" x2="1016.4" y2="24" stroke="#000" stroke-width="1.8"/>
<text x="37" y="31" font-size="20.6" textLength="29.6" lengthAdjust="spacingAndGlyphs" fill="#000">1.5</text>
<text x="75.76" y="263.6" font-size="23.7" textLength="21.87" lengthAdjust="spacingAndGlyphs" fill="#000">a)</text>
<text x="512.75" y="316.4" font-size="24.4" textLength="67.48" lengthAdjust="spacingAndGlyphs" fill="#000">A4 (°)</text>
<rect x="80.6" y="33" width="110.4" height="114.7" rx="3" ry="3" fill="#fff" fill-opacity="0.8" stroke="#d0d0d0" stroke-width="1.2"/>
<path d="M106,44.48 L109.1,50.99 L102.9,50.99Z" fill="#0000ff"/>
<path d="M106,38.7V56.9M101.5,38.7H110.5M101.5,56.9H110.5" stroke="#0000ff" stroke-width="1.4" fill="none"/>
<path d="M106,72.28 L109.1,78.79 L102.9,78.79Z" fill="none" stroke="#0000ff" stroke-width="1.2"/>
<path d="M106,67V84.6M101.5,67H110.5M101.5,84.6H110.5" stroke="#0000ff" stroke-width="1.4" fill="none"/>
<path d="M106,98.9 L109.4,103.2 L106,107.5 L102.6,103.2Z" fill="none" stroke="#ff0000" stroke-width="1.2"/>
<path d="M106,94.1V112.1M101.5,94.1H110.5M101.5,112.1H110.5" stroke="#ff0000" stroke-width="1.4" fill="none"/>
<rect x="103.1" y="127.7" width="5.8" height="5.8" fill="none" stroke="#008000" stroke-width="1.2"/>
<path d="M106,121.5V139.5M101.5,121.5H110.5M101.5,139.5H110.5" stroke="#008000" stroke-width="1.4" fill="none"/>
<text x="138.34" y="54.1" font-size="19.3" textLength="44.55" lengthAdjust="spacingAndGlyphs" fill="#000">NSFz</text>
<text x="139.01" y="81.5" font-size="19.3" textLength="31.06" lengthAdjust="spacingAndGlyphs" fill="#000">SFz</text>
<text x="138.99" y="108.8" font-size="19.3" textLength="31.6" lengthAdjust="spacingAndGlyphs" fill="#000">SFx</text>
<text x="139" y="136" font-size="19.3" textLength="31.44" lengthAdjust="spacingAndGlyphs" fill="#000">SFy</text>
<rect x="218.6" y="40.9" width="97.4" height="130.9" fill="#fff"/>
<g>
<path d="M239.5,91.22V121.62M235.7,91.22H243.3M235.7,121.62H243.3" stroke="#008000" stroke-width="1.4" fill="none"/>
<rect x="237.2" y="104.12" width="4.6" height="4.6" fill="none" stroke="#008000" stroke-width="1.2"/>
<path d="M238.9,101.78V118.66M235.1,101.78H242.7M235.1,118.66H242.7" stroke="#0000ff" stroke-width="1.4" fill="none"/>
<path d="M238.9,107.22 L241.4,112.47 L236.4,112.47Z" fill="#0000ff"/>
<path d="M239.3,104.88V125.21M235.5,104.88H243.1M235.5,125.21H243.1" stroke="#ff0000" stroke-width="1.4" fill="none"/>
<path d="M239.3,111.64 L242,115.04 L239.3,118.44 L236.6,115.04Z" fill="none" stroke="#ff0000" stroke-width="1.2"/>
<path d="M239.1,82.53V100.87M235.3,82.53H242.9M235.3,100.87H242.9" stroke="#0000ff" stroke-width="1.4" fill="none"/>
<path d="M239.1,88.7 L241.6,93.95 L236.6,93.95Z" fill="none" stroke="#0000ff" stroke-width="1.2"/>
<path d="M241.4,83.25V101M237.6,83.25H245.2M237.6,101H245.2" stroke="#0000ff" stroke-width="1.4" fill="none"/>
<path d="M241.4,89.12 L243.9,94.37 L238.9,94.37Z" fill="#0000ff"/>
<path d="M241.6,84.49V99.7M237.8,84.49H245.4M237.8,99.7H245.4" stroke="#0000ff" stroke-width="1.4" fill="none"/>
<path d="M241.6,89.09 L244.1,94.34 L239.1,94.34Z" fill="none" stroke="#0000ff" stroke-width="1.2"/>
<path d="M242,80.78V96.42M238.2,80.78H245.8M238.2,96.42H245.8" stroke="#008000" stroke-width="1.4" fill="none"/>
<rect x="239.7" y="86.3" width="4.6" height="4.6" fill="none" stroke="#008000" stroke-width="1.2"/>
<path d="M241.8,89.65V107.5M238,89.65H245.6M238,107.5H245.6" stroke="#ff0000" stroke-width="1.4" fill="none"/>
<path d="M241.8,95.17 L244.5,98.57 L241.8,101.97 L239.1,98.57Z" fill="none" stroke="#ff0000" stroke-width="1.2"/>
<path d="M244.3,77.72V98.69M240.5,77.72H248.1M240.5,98.69H248.1" stroke="#ff0000" stroke-width="1.4" fill="none"/>
<path d="M244.3,84.8 L247,88.2 L244.3,91.6 L241.6,88.2Z" fill="none" stroke="#ff0000" stroke-width="1.2"/>
<path d="M244.1,81.38V99.87M240.3,81.38H247.9M240.3,99.87H247.9" stroke="#0000ff" stroke-width="1.4" fill="none"/>
<path d="M244.1,87.63 L246.6,92.88 L241.6,92.88Z" fill="none" stroke="#0000ff" stroke-width="1.2"/>
<path d="M243.9,105.27V120.1M240.1,105.27H247.7M240.1,120.1H247.7" stroke="#0000ff" stroke-width="1.4" fill="none"/>
<path d="M243.9,109.68 L246.4,114.93 L241.4,114.93Z" fill="#0000ff"/>
<path d="M244.5,107.28V122.86M240.7,107.28H248.3M240.7,122.86H248.3" stroke="#008000" stroke-width="1.4" fill="none"/>
<rect x="242.2" y="112.77" width="4.6" height="4.6" fill="none" stroke="#008000" stroke-width="1.2"/>
<path d="M246.4,87.3V108.89M242.6,87.3H250.2M242.6,108.89H250.2" stroke="#0000ff" stroke-width="1.4" fill="none"/>
<path d="M246.4,95.09 L248.9,100.34 L243.9,100.34Z" fill="#0000ff"/>
<path d="M246.6,91.21V110.71M242.8,91.21H250.4M242.8,110.71H250.4" stroke="#0000ff" stroke-width="1.4" fill="none"/>
<path d="M246.6,97.96 L249.1,103.21 L244.1,103.21Z" fill="none" stroke="#0000ff" stroke-width="1.2"/>
<path d="M246.8,92.82V111.47M243,92.82H250.6M243,111.47H250.6" stroke="#ff0000" stroke-width="1.4" fill="none"/>
<path d="M246.8,98.74 L249.5,102.14 L246.8,105.54 L244.1,102.14Z" fill="none" stroke="#ff0000" stroke-width="1.2"/>
<path d="M247,97.26V134.44M243.2,97.26H250.8M243.2,134.44H250.8" stroke="#008000" stroke-width="1.4" fill="none"/>
<rect x="244.7" y="113.55" width="4.6" height="4.6" fill="none" stroke="#008000" stroke-width="1.2"/>
<path d="M247.2,64.46V85.41M243.4,64.46H251M243.4,85.41H251" stroke="#0000ff" stroke-width="1.4" fill="none"/>
<path d="M247.2,71.93 L249.7,77.18 L244.7,77.18Z" fill="#0000ff"/>
<path d="M249.5,84.35V102.5M245.7,84.35H253.3M245.7,102.5H253.3" stroke="#008000" stroke-width="1.4" fill="none"/>
<rect x="247.2" y="91.13" width="4.6" height="4.6" fill="none" stroke="#008000" stroke-width="1.2"/>
<path d="M249.3,89.33V119.24M245.5,89.33H253.1M245.5,119.24H253.1" stroke="#ff0000" stroke-width="1.4" fill="none"/>
<path d="M249.3,100.89 L252,104.29 L249.3,107.69 L246.6,104.29Z" fill="none" stroke="#ff0000" stroke-width="1.2"/>
<path d="M249.1,87.68V105.15M245.3,87.68H252.9M245.3,105.15H252.9" stroke="#0000ff" stroke-width="1.4" fill="none"/>
<path d="M249.1,93.41 L251.6,98.66 L246.6,98.66Z" fill="none" stroke="#0000ff" stroke-width="1.2"/>
<path d="M251.8,82.1V111.64M248,82.1H255.6M248,111.64H255.6" stroke="#ff0000" stroke-width="1.4" fill="none"/>
<path d="M251.8,93.47 L254.5,96.87 L251.8,100.27 L249.1,96.87Z" fill="none" stroke="#ff0000" stroke-width="1.2"/>
<path d="M252,91.02V119.42M248.2,91.02H255.8M248.2,119.42H255.8" stroke="#008000" stroke-width="1.4" fill="none"/>
<rect x="249.7" y="102.92" width="4.6" height="4.6" fill="none" stroke="#008000" stroke-width="1.2"/>
<path d="M251.4,88.97V106.48M247.6,88.97H255.2M247.6,106.48H255.2" stroke="#0000ff" stroke-width="1.4" fill="none"/>
<path d="M251.4,94.73 L253.9,99.98 L248.9,99.98Z" fill="#0000ff"/>
<path d="M251.6,81.33V98.2M247.8,81.33H255.4M247.8,98.2H255.4" stroke="#0000ff" stroke-width="1.4" fill="none"/>
<path d="M251.6,86.76 L254.1,92.01 L249.1,92.01Z" fill="none" stroke="#0000ff" stroke-width="1.2"/>
<path d="M253.9,81.05V101.88M250.1,81.05H257.7M250.1,101.88H257.7" stroke="#0000ff" stroke-width="1.4" fill="none"/>
<path d="M253.9,88.47 L256.4,93.72 L251.4,93.72Z" fill="#0000ff"/>
<path d="M254.5,93.31V117.88M250.7,93.31H258.3M250.7,117.88H258.3" stroke="#008000" stroke-width="1.4" fill="none"/>
<rect x="252.2" y="103.29" width="4.6" height="4.6" fill="none" stroke="#008000" stroke-width="1.2"/>
<path d="M254.3,85.77V106.17M250.5,85.77H258.1M250.5,106.17H258.1" stroke="#ff0000" stroke-width="1.4" fill="none"/>
<path d="M254.3,92.57 L257,95.97 L254.3,99.37 L251.6,95.97Z" fill="none" stroke="#ff0000" stroke-width="1.2"/>
<path d="M254.1,90.94V108.66M250.3,90.94H257.9M250.3,108.66H257.9" stroke="#0000ff" stroke-width="1.4" fill="none"/>
<path d="M254.1,96.8 L256.6,102.05 L251.6,102.05Z" fill="none" stroke="#0000ff" stroke-width="1.2"/>
<path d="M257,86.03V114.43M253.2,86.03H260.8M253.2,114.43H260.8" stroke="#008000" stroke-width="1.4" fill="none"/>
<rect x="254.7" y="97.93" width="4.6" height="4.6" fill="none" stroke="#008000" stroke-width="1.2"/>
<path d="M256.8,100.89V116.74M253,100.89H260.6M253,116.74H260.6" stroke="#ff0000" stroke-width="1.4" fill="none"/>
<path d="M256.8,105.41 L259.5,108.81 L256.8,112.21 L254.1,108.81Z" fill="none" stroke="#ff0000" stroke-width="1.2"/>
<path d="M256.4,98.07V114.27M252.6,98.07H260.2M252.6,114.27H260.2" stroke="#0000ff" stroke-width="1.4" fill="none"/>
<path d="M256.4,103.17 L258.9,108.42 L253.9,108.42Z" fill="#0000ff"/>
<path d="M256.6,95.01V110.78M252.8,95.01H260.4M252.8,110.78H260.4" stroke="#0000ff" stroke-width="1.4" fill="none"/>
<path d="M256.6,99.9 L259.1,105.15 L254.1,105.15Z" fill="none" stroke="#0000ff" stroke-width="1.2"/>
<path d="M259.3,75.69V94.13M255.5,75.69H263.1M255.5,94.13H263.1" stroke="#ff0000" stroke-width="1.4" fill="none"/>
<path d="M259.3,81.51 L262,84.91 L259.3,88.31 L256.6,84.91Z" fill="none" stroke="#ff0000" stroke-width="1.2"/>
<path d="M257.7,71.01V94.57M253.9,71.01H261.5M253.9,94.57H261.5" stroke="#0000ff" stroke-width="1.4" fill="none"/>
<path d="M257.7,79.79 L260.2,85.04 L255.2,85.04Z" fill="#0000ff"/>
<path d="M259.1,95.38V113.7M255.3,95.38H262.9M255.3,113.7H262.9" stroke="#0000ff" stroke-width="1.4" fill="none"/>
<path d="M259.1,101.54 L261.6,106.79 L256.6,106.79Z" fill="none" stroke="#0000ff" stroke-width="1.2"/>
<path d="M259.5,102.62V125M255.7,102.62H263.3M255.7,125H263.3" stroke="#008000" stroke-width="1.4" fill="none"/>
<rect x="257.2" y="111.51" width="4.6" height="4.6" fill="none" stroke="#008000" stroke-width="1.2"/>
<path d="M261.8,93.61V118.2M258,93.61H265.6M258,118.2H265.6" stroke="#ff0000" stroke-width="1.4" fill="none"/>
<path d="M261.8,102.51 L264.5,105.91 L261.8,109.31 L259.1,105.91Z" fill="none" stroke="#ff0000" stroke-width="1.2"/>
<path d="M262,81.82V103.95M258.2,81.82H265.8M258.2,103.95H265.8" stroke="#008000" stroke-width="1.4" fill="none"/>
<rect x="259.7" y="90.59" width="4.6" height="4.6" fill="none" stroke="#008000" stroke-width="1.2"/>
<path d="M261.6,107.01V124M257.8,107.01H265.4M257.8,124H265.4" stroke="#0000ff" stroke-width="1.4" fill="none"/>
<path d="M261.6,112.51 L264.1,117.76 L259.1,117.76Z" fill="none" stroke="#0000ff" stroke-width="1.2"/>
<path d="M261.4,102.63V124.48M257.6,102.63H265.2M257.6,124.48H265.2" stroke="#0000ff" stroke-width="1.4" fill="none"/>
<path d="M261.4,110.55 L263.9,115.8 L258.9,115.8Z" fill="#0000ff"/>
<path d="M264.5,110.63V130.79M260.7,110.63H268.3M260.7,130.79H268.3" stroke="#008000" stroke-width="1.4" fill="none"/>
<rect x="262.2" y="118.41" width="4.6" height="4.6" fill="none" stroke="#008000" stroke-width="1.2"/>
<path d="M264.3,95.06V121.64M260.5,95.06H268.1M260.5,121.64H268.1" stroke="#ff0000" stroke-width="1.4" fill="none"/>
<path d="M264.3,104.95 L267,108.35 L264.3,111.75 L261.6,108.35Z" fill="none" stroke="#ff0000" stroke-width="1.2"/>
<path d="M264.1,90.49V114.78M260.3,90.49H267.9M260.3,114.78H267.9" stroke="#0000ff" stroke-width="1.4" fill="none"/>
<path d="M264.1,99.63 L266.6,104.88 L261.6,104.88Z" fill="none" stroke="#0000ff" stroke-width="1.2"/>
<path d="M263.9,99.17V114.52M260.1,99.17H267.7M260.1,114.52H267.7" stroke="#0000ff" stroke-width="1.4" fill="none"/>
<path d="M263.9,103.85 L266.4,109.1 L261.4,109.1Z" fill="#0000ff"/>
<path d="M267,90.76V111.61M263.2,90.76H270.8M263.2,111.61H270.8" stroke="#008000" stroke-width="1.4" fill="none"/>
<rect x="264.7" y="98.89" width="4.6" height="4.6" fill="none" stroke="#008000" stroke-width="1.2"/>
<path d="M266.6,89.48V110.78M262.8,89.48H270.4M262.8,110.78H270.4" stroke="#0000ff" stroke-width="1.4" fill="none"/>
<path d="M266.6,97.13 L269.1,102.38 L264.1,102.38Z" fill="none" stroke="#0000ff" stroke-width="1.2"/>
<path d="M266.4,103.98V118.78M262.6,103.98H270.2M262.6,118.78H270.2" stroke="#0000ff" stroke-width="1.4" fill="none"/>
<path d="M266.4,108.38 L268.9,113.63 L263.9,113.63Z" fill="#0000ff"/>
<path d="M266.8,105.52V123.03M263,105.52H270.6M263,123.03H270.6" stroke="#ff0000" stroke-width="1.4" fill="none"/>
<path d="M266.8,110.87 L269.5,114.27 L266.8,117.67 L264.1,114.27Z" fill="none" stroke="#ff0000" stroke-width="1.2"/>
<path d="M268.9,97.44V116.37M265.1,97.44H272.7M265.1,116.37H272.7" stroke="#0000ff" stroke-width="1.4" fill="none"/>
<path d="M268.9,103.91 L271.4,109.16 L266.4,109.16Z" fill="#0000ff"/>
<path d="M269.1,93.13V112.1M265.3,93.13H272.9M265.3,112.1H272.9" stroke="#0000ff" stroke-width="1.4" fill="none"/>
<path d="M269.1,99.62 L271.6,104.87 L266.6,104.87Z" fill="none" stroke="#0000ff" stroke-width="1.2"/>
<path d="M269.3,91.24V114.96M265.5,91.24H273.1M265.5,114.96H273.1" stroke="#ff0000" stroke-width="1.4" fill="none"/>
<path d="M269.3,99.7 L272,103.1 L269.3,106.5 L266.6,103.1Z" fill="none" stroke="#ff0000" stroke-width="1.2"/>
<path d="M269.5,105.67V124.61M265.7,105.67H273.3M265.7,124.61H273.3" stroke="#008000" stroke-width="1.4" fill="none"/>
<rect x="267.2" y="112.84" width="4.6" height="4.6" fill="none" stroke="#008000" stroke-width="1.2"/>
<path d="M271.4,92.8V108.57M267.6,92.8H275.2M267.6,108.57H275.2" stroke="#0000ff" stroke-width="1.4" fill="none"/>
<path d="M271.4,97.68 L273.9,102.93 L268.9,102.93Z" fill="#0000ff"/>
<path d="M271.6,98.73V118.18M267.8,98.73H275.4M267.8,118.18H275.4" stroke="#0000ff" stroke-width="1.4" fill="none"/>
<path d="M271.6,105.46 L274.1,110.71 L269.1,110.71Z" fill="none" stroke="#0000ff" stroke-width="1.2"/>
<path d="M272,110.71V129.56M268.2,110.71H275.8M268.2,129.56H275.8" stroke="#008000" stroke-width="1.4" fill="none"/>
<rect x="269.7" y="117.84" width="4.6" height="4.6" fill="none" stroke="#008000" stroke-width="1.2"/>
<path d="M271.8,96.26V112.64M268,96.26H275.6M268,112.64H275.6" stroke="#ff0000" stroke-width="1.4" fill="none"/>
<path d="M271.8,101.05 L274.5,104.45 L271.8,107.85 L269.1,104.45Z" fill="none" stroke="#ff0000" stroke-width="1.2"/>
<path d="M274.1,87.44V103.98M270.3,87.44H277.9M270.3,103.98H277.9" stroke="#0000ff" stroke-width="1.4" fill="none"/>
<path d="M274.1,92.71 L276.6,97.96 L271.6,97.96Z" fill="none" stroke="#0000ff" stroke-width="1.2"/>
<path d="M274.5,90.7V109.62M270.7,90.7H278.3M270.7,109.62H278.3" stroke="#008000" stroke-width="1.4" fill="none"/>
<rect x="272.2" y="97.86" width="4.6" height="4.6" fill="none" stroke="#008000" stroke-width="1.2"/>
<path d="M273.9,116.53V135.52M270.1,116.53H277.7M270.1,135.52H277.7" stroke="#0000ff" stroke-width="1.4" fill="none"/>
<path d="M273.9,123.03 L276.4,128.28 L271.4,128.28Z" fill="#0000ff"/>
<path d="M274.3,116.77V135.83M270.5,116.77H278.1M270.5,135.83H278.1" stroke="#ff0000" stroke-width="1.4" fill="none"/>
<path d="M274.3,122.9 L277,126.3 L274.3,129.7 L271.6,126.3Z" fill="none" stroke="#ff0000" stroke-width="1.2"/>
<path d="M276.6,103.88V131.1M272.8,103.88H280.4M272.8,131.1H280.4" stroke="#0000ff" stroke-width="1.4" fill="none"/>
<path d="M276.6,114.49 L279.1,119.74 L274.1,119.74Z" fill="none" stroke="#0000ff" stroke-width="1.2"/>
<path d="M276.4,115.91V131.43M272.6,115.91H280.2M272.6,131.43H280.2" stroke="#0000ff" stroke-width="1.4" fill="none"/>
<path d="M276.4,120.67 L278.9,125.92 L273.9,125.92Z" fill="#0000ff"/>
<path d="M277,86.61V101.57M273.2,86.61H280.8M273.2,101.57H280.8" stroke="#008000" stroke-width="1.4" fill="none"/>
<rect x="274.7" y="91.79" width="4.6" height="4.6" fill="none" stroke="#008000" stroke-width="1.2"/>
<path d="M276.8,107.84V125.73M273,107.84H280.6M273,125.73H280.6" stroke="#ff0000" stroke-width="1.4" fill="none"/>
<path d="M276.8,113.38 L279.5,116.78 L276.8,120.18 L274.1,116.78Z" fill="none" stroke="#ff0000" stroke-width="1.2"/>
<path d="M278.2,78.21V97.84M274.4,78.21H282M274.4,97.84H282" stroke="#0000ff" stroke-width="1.4" fill="none"/>
<path d="M278.2,85.02 L280.7,90.27 L275.7,90.27Z" fill="#0000ff"/>
<path d="M279.1,99.91V120.67M275.3,99.91H282.9M275.3,120.67H282.9" stroke="#0000ff" stroke-width="1.4" fill="none"/>
<path d="M279.1,107.29 L281.6,112.54 L276.6,112.54Z" fill="none" stroke="#0000ff" stroke-width="1.2"/>
<path d="M279.5,103.11V123.94M275.7,103.11H283.3M275.7,123.94H283.3" stroke="#008000" stroke-width="1.4" fill="none"/>
<rect x="277.2" y="111.22" width="4.6" height="4.6" fill="none" stroke="#008000" stroke-width="1.2"/>
<path d="M279.3,99.09V115.68M275.5,99.09H283.1M275.5,115.68H283.1" stroke="#ff0000" stroke-width="1.4" fill="none"/>
<path d="M279.3,103.98 L282,107.38 L279.3,110.78 L276.6,107.38Z" fill="none" stroke="#ff0000" stroke-width="1.2"/>
<path d="M281.6,94.81V116.64M277.8,94.81H285.4M277.8,116.64H285.4" stroke="#0000ff" stroke-width="1.4" fill="none"/>
<path d="M281.6,102.72 L284.1,107.97 L279.1,107.97Z" fill="none" stroke="#0000ff" stroke-width="1.2"/>
<path d="M281.4,111.88V127.68M277.6,111.88H285.2M277.6,127.68H285.2" stroke="#0000ff" stroke-width="1.4" fill="none"/>
<path d="M281.4,116.78 L283.9,122.03 L278.9,122.03Z" fill="#0000ff"/>
<path d="M282,102.71V125.71M278.2,102.71H285.8M278.2,125.71H285.8" stroke="#008000" stroke-width="1.4" fill="none"/>
<rect x="279.7" y="111.91" width="4.6" height="4.6" fill="none" stroke="#008000" stroke-width="1.2"/>
<path d="M280.7,128.6V152.17M276.9,128.6H284.5M276.9,152.17H284.5" stroke="#ff0000" stroke-width="1.4" fill="none"/>
<path d="M280.7,136.98 L283.4,140.38 L280.7,143.78 L278,140.38Z" fill="none" stroke="#ff0000" stroke-width="1.2"/>
<path d="M283.9,78.5V93.22M280.1,78.5H287.7M280.1,93.22H287.7" stroke="#0000ff" stroke-width="1.4" fill="none"/>
<path d="M283.9,82.86 L286.4,88.11 L281.4,88.11Z" fill="#0000ff"/>
<path d="M284.3,109.19V124.36M280.5,109.19H288.1M280.5,124.36H288.1" stroke="#ff0000" stroke-width="1.4" fill="none"/>
<path d="M284.3,113.37 L287,116.77 L284.3,120.17 L281.6,116.77Z" fill="none" stroke="#ff0000" stroke-width="1.2"/>
<path d="M284.5,119.58V138.55M280.7,119.58H288.3M280.7,138.55H288.3" stroke="#008000" stroke-width="1.4" fill="none"/>
<rect x="282.2" y="126.77" width="4.6" height="4.6" fill="none" stroke="#008000" stroke-width="1.2"/>
<path d="M284.1,80.23V106.25M280.3,80.23H287.9M280.3,106.25H287.9" stroke="#0000ff" stroke-width="1.4" fill="none"/>
<path d="M284.1,90.24 L286.6,95.49 L281.6,95.49Z" fill="none" stroke="#0000ff" stroke-width="1.2"/>
<path d="M286.8,101.07V121.09M283,101.07H290.6M283,121.09H290.6" stroke="#ff0000" stroke-width="1.4" fill="none"/>
<path d="M286.8,107.68 L289.5,111.08 L286.8,114.48 L284.1,111.08Z" fill="none" stroke="#ff0000" stroke-width="1.2"/>
<path d="M287,92.54V112.41M283.2,92.54H290.8M283.2,112.41H290.8" stroke="#008000" stroke-width="1.4" fill="none"/>
<rect x="284.7" y="100.17" width="4.6" height="4.6" fill="none" stroke="#008000" stroke-width="1.2"/>
<path d="M286.4,96.03V119.09M282.6,96.03H290.2M282.6,119.09H290.2" stroke="#0000ff" stroke-width="1.4" fill="none"/>
<path d="M286.4,104.56 L288.9,109.81 L283.9,109.81Z" fill="#0000ff"/>
<path d="M286.6,103.56V122.88M282.8,103.56H290.4M282.8,122.88H290.4" stroke="#0000ff" stroke-width="1.4" fill="none"/>
<path d="M286.6,110.22 L289.1,115.47 L284.1,115.47Z" fill="none" stroke="#0000ff" stroke-width="1.2"/>
<path d="M289.5,96.15V112.2M285.7,96.15H293.3M285.7,112.2H293.3" stroke="#008000" stroke-width="1.4" fill="none"/>
<rect x="287.2" y="101.88" width="4.6" height="4.6" fill="none" stroke="#008000" stroke-width="1.2"/>
<path d="M289.3,111.61V127.54M285.5,111.61H293.1M285.5,127.54H293.1" stroke="#ff0000" stroke-width="1.4" fill="none"/>
<path d="M289.3,116.18 L292,119.58 L289.3,122.98 L286.6,119.58Z" fill="none" stroke="#ff0000" stroke-width="1.2"/>
<path d="M288.9,108.6V127.33M285.1,108.6H292.7M285.1,127.33H292.7" stroke="#0000ff" stroke-width="1.4" fill="none"/>
<path d="M288.9,114.96 L291.4,120.21 L286.4,120.21Z" fill="#0000ff"/>
<path d="M289.1,104.34V124.53M285.3,104.34H292.9M285.3,124.53H292.9" stroke="#0000ff" stroke-width="1.4" fill="none"/>
<path d="M289.1,111.43 L291.6,116.68 L286.6,116.68Z" fill="none" stroke="#0000ff" stroke-width="1.2"/>
<path d="M291.8,115.45V140.35M288,115.45H295.6M288,140.35H295.6" stroke="#ff0000" stroke-width="1.4" fill="none"/>
<path d="M291.8,124.5 L294.5,127.9 L291.8,131.3 L289.1,127.9Z" fill="none" stroke="#ff0000" stroke-width="1.2"/>
<path d="M292,114.93V129.89M288.2,114.93H295.8M288.2,129.89H295.8" stroke="#008000" stroke-width="1.4" fill="none"/>
<rect x="289.7" y="120.11" width="4.6" height="4.6" fill="none" stroke="#008000" stroke-width="1.2"/>
<path d="M291.6,108.83V125.68M287.8,108.83H295.4M287.8,125.68H295.4" stroke="#0000ff" stroke-width="1.4" fill="none"/>
<path d="M291.6,114.25 L294.1,119.5 L289.1,119.5Z" fill="none" stroke="#0000ff" stroke-width="1.2"/>
<path d="M291.4,108.68V125.5M287.6,108.68H295.2M287.6,125.5H295.2" stroke="#0000ff" stroke-width="1.4" fill="none"/>
<path d="M291.4,114.09 L293.9,119.34 L288.9,119.34Z" fill="#0000ff"/>
<path d="M294.1,98.07V117.11M290.3,98.07H297.9M290.3,117.11H297.9" stroke="#0000ff" stroke-width="1.4" fill="none"/>
<path d="M294.1,104.59 L296.6,109.84 L291.6,109.84Z" fill="none" stroke="#0000ff" stroke-width="1.2"/>
<path d="M294.5,109.43V131.1M290.7,109.43H298.3M290.7,131.1H298.3" stroke="#008000" stroke-width="1.4" fill="none"/>
<rect x="292.2" y="117.97" width="4.6" height="4.6" fill="none" stroke="#008000" stroke-width="1.2"/>
<path d="M293.7,127.29V148.24M289.9,127.29H297.5M289.9,148.24H297.5" stroke="#0000ff" stroke-width="1.4" fill="none"/>
<path d="M293.7,134.77 L296.2,140.02 L291.2,140.02Z" fill="#0000ff"/>
<path d="M294.3,96.95V112.52M290.5,96.95H298.1M290.5,112.52H298.1" stroke="#ff0000" stroke-width="1.4" fill="none"/>
<path d="M294.3,101.33 L297,104.73 L294.3,108.13 L291.6,104.73Z" fill="none" stroke="#ff0000" stroke-width="1.2"/>
<path d="M296.4,103.22V122.93M292.6,103.22H300.2M292.6,122.93H300.2" stroke="#0000ff" stroke-width="1.4" fill="none"/>
<path d="M296.4,110.07 L298.9,115.32 L293.9,115.32Z" fill="#0000ff"/>
<path d="M296.8,110.7V133.18M293,110.7H300.6M293,133.18H300.6" stroke="#ff0000" stroke-width="1.4" fill="none"/>
<path d="M296.8,118.54 L299.5,121.94 L296.8,125.34 L294.1,121.94Z" fill="none" stroke="#ff0000" stroke-width="1.2"/>
<path d="M297,120.22V144.32M293.2,120.22H300.8M293.2,144.32H300.8" stroke="#008000" stroke-width="1.4" fill="none"/>
<rect x="294.7" y="129.97" width="4.6" height="4.6" fill="none" stroke="#008000" stroke-width="1.2"/>
<path d="M296.6,105.73V129M292.8,105.73H300.4M292.8,129H300.4" stroke="#0000ff" stroke-width="1.4" fill="none"/>
<path d="M296.6,114.36 L299.1,119.61 L294.1,119.61Z" fill="none" stroke="#0000ff" stroke-width="1.2"/>
<path d="M299.5,111.01V126.39M295.7,111.01H303.3M295.7,126.39H303.3" stroke="#008000" stroke-width="1.4" fill="none"/>
<rect x="297.2" y="116.4" width="4.6" height="4.6" fill="none" stroke="#008000" stroke-width="1.2"/>
<path d="M298.9,93.88V111.58M295.1,93.88H302.7M295.1,111.58H302.7" stroke="#0000ff" stroke-width="1.4" fill="none"/>
<path d="M298.9,99.73 L301.4,104.98 L296.4,104.98Z" fill="#0000ff"/>
<path d="M299.3,109.33V125.08M295.5,109.33H303.1M295.5,125.08H303.1" stroke="#ff0000" stroke-width="1.4" fill="none"/>
<path d="M299.3,113.81 L302,117.21 L299.3,120.61 L296.6,117.21Z" fill="none" stroke="#ff0000" stroke-width="1.2"/>
<path d="M299.1,115.33V134.92M295.3,115.33H302.9M295.3,134.92H302.9" stroke="#0000ff" stroke-width="1.4" fill="none"/>
<path d="M299.1,122.13 L301.6,127.38 L296.6,127.38Z" fill="none" stroke="#0000ff" stroke-width="1.2"/>
<path d="M301.6,101.82V118.13M297.8,101.82H305.4M297.8,118.13H305.4" stroke="#0000ff" stroke-width="1.4" fill="none"/>
<path d="M301.6,106.98 L304.1,112.23 L299.1,112.23Z" fill="none" stroke="#0000ff" stroke-width="1.2"/>
<path d="M301.4,106.4V120.81M297.6,106.4H305.2M297.6,120.81H305.2" stroke="#0000ff" stroke-width="1.4" fill="none"/>
<path d="M301.4,110.6 L303.9,115.85 L298.9,115.85Z" fill="#0000ff"/>
<path d="M301.8,92.87V108.88M298,92.87H305.6M298,108.88H305.6" stroke="#ff0000" stroke-width="1.4" fill="none"/>
<path d="M301.8,97.48 L304.5,100.88 L301.8,104.28 L299.1,100.88Z" fill="none" stroke="#ff0000" stroke-width="1.2"/>
<path d="M302,111.6V135.35M298.2,111.6H305.8M298.2,135.35H305.8" stroke="#008000" stroke-width="1.4" fill="none"/>
<rect x="299.7" y="121.18" width="4.6" height="4.6" fill="none" stroke="#008000" stroke-width="1.2"/>
</g>
<rect x="218.6" y="40.9" width="97.4" height="130.9" stroke="#000" stroke-width="2" fill="none"/>
<line x1="226.7" y1="171.8" x2="226.7" y2="165" stroke="#000" stroke-width="1.8"/>
<line x1="226.7" y1="40.9" x2="226.7" y2="47.7" stroke="#000" stroke-width="1.8"/>
<text x="214.96" y="189.3" font-size="20.6" textLength="23.82" lengthAdjust="spacingAndGlyphs" fill="#000">40</text>
<line x1="276.7" y1="171.8" x2="276.7" y2="165" stroke="#000" stroke-width="1.8"/>
<line x1="276.7" y1="40.9" x2="276.7" y2="47.7" stroke="#000" stroke-width="1.8"/>
<text x="265.17" y="189.3" font-size="20.6" textLength="23.46" lengthAdjust="spacingAndGlyphs" fill="#000">45</text>
<line x1="316" y1="171.8" x2="309.2" y2="171.8" stroke="#000" stroke-width="1.8"/>
<text x="319.75" y="178.7" font-size="20.6" textLength="54.63" lengthAdjust="spacingAndGlyphs" fill="#000">0.003</text>
<line x1="316" y1="106.35" x2="309.2" y2="106.35" stroke="#000" stroke-width="1.8"/>
<text x="319.74" y="113.25" font-size="20.6" textLength="54.78" lengthAdjust="spacingAndGlyphs" fill="#000">0.004</text>
<line x1="316" y1="40.9" x2="309.2" y2="40.9" stroke="#000" stroke-width="1.8"/>
<text x="319.75" y="47.8" font-size="20.6" textLength="54.44" lengthAdjust="spacingAndGlyphs" fill="#000">0.005</text>
<rect x="503.7" y="41.1" width="124" height="143.6" fill="#fff"/>
<path d="M528.9,91V111M524.7,91H533.1M524.7,111H533.1" stroke="#ff0000" stroke-width="1.4" fill="none"/>
<path d="M528.9,96.9 L532.2,101 L528.9,105.1 L525.6,101Z" fill="none" stroke="#ff0000" stroke-width="1.2"/>
<path d="M537.4,108.7V128.1M533.2,108.7H541.6M533.2,128.1H541.6" stroke="#ff0000" stroke-width="1.4" fill="none"/>
<path d="M537.4,114.3 L540.7,118.4 L537.4,122.5 L534.1,118.4Z" fill="none" stroke="#ff0000" stroke-width="1.2"/>
<path d="M545.4,112.7V132.7M541.2,112.7H549.6M541.2,132.7H549.6" stroke="#ff0000" stroke-width="1.4" fill="none"/>
<path d="M545.4,118.6 L548.7,122.7 L545.4,126.8 L542.1,122.7Z" fill="none" stroke="#ff0000" stroke-width="1.2"/>
<path d="M553.5,93.5V113.5M549.3,93.5H557.7M549.3,113.5H557.7" stroke="#ff0000" stroke-width="1.4" fill="none"/>
<path d="M553.5,99.4 L556.8,103.5 L553.5,107.6 L550.2,103.5Z" fill="none" stroke="#ff0000" stroke-width="1.2"/>
<path d="M562.2,110.9V130.9M558,110.9H566.4M558,130.9H566.4" stroke="#ff0000" stroke-width="1.4" fill="none"/>
<path d="M562.2,116.8 L565.5,120.9 L562.2,125 L558.9,120.9Z" fill="none" stroke="#ff0000" stroke-width="1.2"/>
<path d="M570.9,105.7V126.1M566.7,105.7H575.1M566.7,126.1H575.1" stroke="#ff0000" stroke-width="1.4" fill="none"/>
<path d="M570.9,111.8 L574.2,115.9 L570.9,120 L567.6,115.9Z" fill="none" stroke="#ff0000" stroke-width="1.2"/>
<path d="M579.3,105.7V126.1M575.1,105.7H583.5M575.1,126.1H583.5" stroke="#ff0000" stroke-width="1.4" fill="none"/>
<path d="M579.3,111.8 L582.6,115.9 L579.3,120 L576,115.9Z" fill="none" stroke="#ff0000" stroke-width="1.2"/>
<path d="M588,120.2V138.8M583.8,120.2H592.2M583.8,138.8H592.2" stroke="#ff0000" stroke-width="1.4" fill="none"/>
<path d="M588,125.4 L591.3,129.5 L588,133.6 L584.7,129.5Z" fill="none" stroke="#ff0000" stroke-width="1.2"/>
<path d="M596.3,95.5V116.5M592.1,95.5H600.5M592.1,116.5H600.5" stroke="#ff0000" stroke-width="1.4" fill="none"/>
<path d="M596.3,101.9 L599.6,106 L596.3,110.1 L593,106Z" fill="none" stroke="#ff0000" stroke-width="1.2"/>
<path d="M605,118.7V121.7M600.8,118.7H609.2M600.8,121.7H609.2" stroke="#ff0000" stroke-width="1.4" fill="none"/>
<path d="M605,116.1 L608.3,120.2 L605,124.3 L601.7,120.2Z" fill="none" stroke="#ff0000" stroke-width="1.2"/>
<path d="M528.9,71.8V94.2M524.7,71.8H533.1M524.7,94.2H533.1" stroke="#008000" stroke-width="1.4" fill="none"/>
<rect x="526.2" y="80.3" width="5.4" height="5.4" fill="none" stroke="#008000" stroke-width="1.2"/>
<path d="M537.4,112.7V132.7M533.2,112.7H541.6M533.2,132.7H541.6" stroke="#008000" stroke-width="1.4" fill="none"/>
<rect x="534.7" y="120" width="5.4" height="5.4" fill="none" stroke="#008000" stroke-width="1.2"/>
<path d="M545.4,83.7V104.7M541.2,83.7H549.6M541.2,104.7H549.6" stroke="#008000" stroke-width="1.4" fill="none"/>
<rect x="542.7" y="91.5" width="5.4" height="5.4" fill="none" stroke="#008000" stroke-width="1.2"/>
<path d="M553.5,109.6V129.6M549.3,109.6H557.7M549.3,129.6H557.7" stroke="#008000" stroke-width="1.4" fill="none"/>
<rect x="550.8" y="116.9" width="5.4" height="5.4" fill="none" stroke="#008000" stroke-width="1.2"/>
<path d="M562.2,89.1V109.1M558,89.1H566.4M558,109.1H566.4" stroke="#008000" stroke-width="1.4" fill="none"/>
<rect x="559.5" y="96.4" width="5.4" height="5.4" fill="none" stroke="#008000" stroke-width="1.2"/>
<path d="M570.9,83.4V105M566.7,83.4H575.1M566.7,105H575.1" stroke="#008000" stroke-width="1.4" fill="none"/>
<rect x="568.2" y="91.5" width="5.4" height="5.4" fill="none" stroke="#008000" stroke-width="1.2"/>
<path d="M579.3,109.9V129.3M575.1,109.9H583.5M575.1,129.3H583.5" stroke="#008000" stroke-width="1.4" fill="none"/>
<rect x="576.6" y="116.9" width="5.4" height="5.4" fill="none" stroke="#008000" stroke-width="1.2"/>
<path d="M588,124.8V144.2M583.8,124.8H592.2M583.8,144.2H592.2" stroke="#008000" stroke-width="1.4" fill="none"/>
<rect x="585.3" y="131.8" width="5.4" height="5.4" fill="none" stroke="#008000" stroke-width="1.2"/>
<path d="M596.3,119.6V137M592.1,119.6H600.5M592.1,137H600.5" stroke="#008000" stroke-width="1.4" fill="none"/>
<rect x="593.6" y="125.6" width="5.4" height="5.4" fill="none" stroke="#008000" stroke-width="1.2"/>
<path d="M605,112.8V116.6M600.8,112.8H609.2M600.8,116.6H609.2" stroke="#008000" stroke-width="1.4" fill="none"/>
<rect x="602.3" y="112" width="5.4" height="5.4" fill="none" stroke="#008000" stroke-width="1.2"/>
<path d="M528.9,84V99.4M524.7,84H533.1M524.7,99.4H533.1" stroke="#0000ff" stroke-width="1.4" fill="none"/>
<path d="M528.9,88.7 L531.4,93.95 L526.4,93.95Z" fill="#0000ff"/>
<path d="M537.4,90.5V111.5M533.2,90.5H541.6M533.2,111.5H541.6" stroke="#0000ff" stroke-width="1.4" fill="none"/>
<path d="M537.4,98 L539.9,103.25 L534.9,103.25Z" fill="#0000ff"/>
<path d="M545.4,99.7V119.7M541.2,99.7H549.6M541.2,119.7H549.6" stroke="#0000ff" stroke-width="1.4" fill="none"/>
<path d="M545.4,106.7 L547.9,111.95 L542.9,111.95Z" fill="#0000ff"/>
<path d="M553.5,110.3V128.9M549.3,110.3H557.7M549.3,128.9H557.7" stroke="#0000ff" stroke-width="1.4" fill="none"/>
<path d="M553.5,116.6 L556,121.85 L551,121.85Z" fill="#0000ff"/>
<path d="M562.2,109.6V129.6M558,109.6H566.4M558,129.6H566.4" stroke="#0000ff" stroke-width="1.4" fill="none"/>
<path d="M562.2,116.6 L564.7,121.85 L559.7,121.85Z" fill="#0000ff"/>
<path d="M570.9,107.1V127.1M566.7,107.1H575.1M566.7,127.1H575.1" stroke="#0000ff" stroke-width="1.4" fill="none"/>
<path d="M570.9,114.1 L573.4,119.35 L568.4,119.35Z" fill="#0000ff"/>
<path d="M579.3,105.9V125.9M575.1,105.9H583.5M575.1,125.9H583.5" stroke="#0000ff" stroke-width="1.4" fill="none"/>
<path d="M579.3,112.9 L581.8,118.15 L576.8,118.15Z" fill="#0000ff"/>
<path d="M588,91.1V112.1M583.8,91.1H592.2M583.8,112.1H592.2" stroke="#0000ff" stroke-width="1.4" fill="none"/>
<path d="M588,98.6 L590.5,103.85 L585.5,103.85Z" fill="#0000ff"/>
<path d="M596.3,117.7V137.7M592.1,117.7H600.5M592.1,137.7H600.5" stroke="#0000ff" stroke-width="1.4" fill="none"/>
<path d="M596.3,124.7 L598.8,129.95 L593.8,129.95Z" fill="#0000ff"/>
<path d="M605,115.9V120.9M600.8,115.9H609.2M600.8,120.9H609.2" stroke="#0000ff" stroke-width="1.4" fill="none"/>
<path d="M605,115.4 L607.5,120.65 L602.5,120.65Z" fill="#0000ff"/>
<rect x="503.7" y="41.1" width="124" height="143.6" stroke="#000" stroke-width="2" fill="none"/>
<line x1="530.3" y1="184.7" x2="530.3" y2="177.9" stroke="#000" stroke-width="1.8"/>
<line x1="530.3" y1="41.1" x2="530.3" y2="47.9" stroke="#000" stroke-width="1.8"/>
<text x="518.35" y="202.4" font-size="20.6" textLength="23.89" lengthAdjust="spacingAndGlyphs" fill="#000">67</text>
<line x1="564.15" y1="184.7" x2="564.15" y2="177.9" stroke="#000" stroke-width="1.8"/>
<line x1="564.15" y1="41.1" x2="564.15" y2="47.9" stroke="#000" stroke-width="1.8"/>
<text x="552.02" y="202.4" font-size="20.6" textLength="24.09" lengthAdjust="spacingAndGlyphs" fill="#000">68</text>
<line x1="598" y1="184.7" x2="598" y2="177.9" stroke="#000" stroke-width="1.8"/>
<line x1="598" y1="41.1" x2="598" y2="47.9" stroke="#000" stroke-width="1.8"/>
<text x="585.89" y="202.4" font-size="20.6" textLength="24.14" lengthAdjust="spacingAndGlyphs" fill="#000">69</text>
<line x1="627.7" y1="184.7" x2="620.9" y2="184.7" stroke="#000" stroke-width="1.8"/>
<text x="630.55" y="191.6" font-size="20.6" textLength="54.37" lengthAdjust="spacingAndGlyphs" fill="#000">0.002</text>
<line x1="627.7" y1="136.9" x2="620.9" y2="136.9" stroke="#000" stroke-width="1.8"/>
<text x="630.55" y="143.8" font-size="20.6" textLength="54.63" lengthAdjust="spacingAndGlyphs" fill="#000">0.003</text>
<line x1="627.7" y1="89.1" x2="620.9" y2="89.1" stroke="#000" stroke-width="1.8"/>
<text x="630.54" y="96" font-size="20.6" textLength="54.78" lengthAdjust="spacingAndGlyphs" fill="#000">0.004</text>
<line x1="627.7" y1="41.3" x2="620.9" y2="41.3" stroke="#000" stroke-width="1.8"/>
<text x="630.55" y="48.2" font-size="20.6" textLength="54.44" lengthAdjust="spacingAndGlyphs" fill="#000">0.005</text>
<text transform="rotate(-90)" x="-297.1" y="24.8" font-size="24.4" textLength="117.66" lengthAdjust="spacingAndGlyphs" fill="#000">Intensity (</text>
<text transform="rotate(-90)" x="-178.35" y="24.8" font-size="24.4" textLength="27" lengthAdjust="spacingAndGlyphs" fill="#000">10</text>
<text transform="rotate(-90)" x="-148.73" y="14.5" font-size="15.6" textLength="7.95" lengthAdjust="spacingAndGlyphs" fill="#000">6</text>
<text transform="rotate(-90)" x="-131.02" y="24.8" font-size="24.4" textLength="82.03" lengthAdjust="spacingAndGlyphs" fill="#000">Mon 2*</text>
<text transform="rotate(-90)" x="-48.56" y="24.8" font-size="24.4" textLength="28.56" lengthAdjust="spacingAndGlyphs" fill="#000">10</text>
<text transform="rotate(-90)" x="-18.17" y="14.5" font-size="15.6" textLength="8.44" lengthAdjust="spacingAndGlyphs" fill="#000">6</text>
<text transform="rotate(-90)" x="-5.41" y="24.8" font-size="24.4" textLength="6.28" lengthAdjust="spacingAndGlyphs" fill="#000">)</text>
<path d="M114.1,445.96 L115.63,448.13 L119.05,448.48 L116.57,450.16 L117.16,452.54 L114.1,451.42 L111.04,452.54 L111.63,450.16 L109.15,448.48 L112.57,448.13Z" fill="#0000ff"/>
<path d="M119.2,434.86 L120.73,437.03 L124.15,437.38 L121.67,439.06 L122.26,441.44 L119.2,440.32 L116.14,441.44 L116.73,439.06 L114.25,437.38 L117.67,437.03Z" fill="#0000ff"/>
<path d="M124.2,437.46 L125.73,439.63 L129.15,439.98 L126.67,441.66 L127.26,444.04 L124.2,442.92 L121.14,444.04 L121.73,441.66 L119.25,439.98 L122.67,439.63Z" fill="#0000ff"/>
<path d="M129.9,450.96 L131.43,453.13 L134.85,453.48 L132.37,455.16 L132.96,457.54 L129.9,456.42 L126.84,457.54 L127.43,455.16 L124.95,453.48 L128.37,453.13Z" fill="#0000ff"/>
<path d="M135.9,473.16 L137.43,475.33 L140.85,475.68 L138.37,477.36 L138.96,479.74 L135.9,478.62 L132.84,479.74 L133.43,477.36 L130.95,475.68 L134.37,475.33Z" fill="#0000ff"/>
<path d="M141.4,494.96 L142.93,497.13 L146.35,497.48 L143.87,499.16 L144.46,501.54 L141.4,500.42 L138.34,501.54 L138.93,499.16 L136.45,497.48 L139.87,497.13Z" fill="#0000ff"/>
<path d="M146.4,509.56 L147.93,511.73 L151.35,512.08 L148.87,513.76 L149.46,516.14 L146.4,515.02 L143.34,516.14 L143.93,513.76 L141.45,512.08 L144.87,511.73Z" fill="#0000ff"/>
<path d="M152.1,514.96 L153.63,517.13 L157.05,517.48 L154.57,519.16 L155.16,521.54 L152.1,520.42 L149.04,521.54 L149.63,519.16 L147.15,517.48 L150.57,517.13Z" fill="#0000ff"/>
<path d="M157.5,507.96 L159.03,510.13 L162.45,510.48 L159.97,512.16 L160.56,514.54 L157.5,513.42 L154.44,514.54 L155.03,512.16 L152.55,510.48 L155.97,510.13Z" fill="#0000ff"/>
<path d="M163,492.96 L164.53,495.13 L167.95,495.48 L165.47,497.16 L166.06,499.54 L163,498.42 L159.94,499.54 L160.53,497.16 L158.05,495.48 L161.47,495.13Z" fill="#0000ff"/>
<path d="M168.6,472.16 L170.13,474.33 L173.55,474.68 L171.07,476.36 L171.66,478.74 L168.6,477.62 L165.54,478.74 L166.13,476.36 L163.65,474.68 L167.07,474.33Z" fill="#0000ff"/>
<path d="M173.9,452.96 L175.43,455.13 L178.85,455.48 L176.37,457.16 L176.96,459.54 L173.9,458.42 L170.84,459.54 L171.43,457.16 L168.95,455.48 L172.37,455.13Z" fill="#0000ff"/>
<path d="M179.1,442.46 L180.63,444.63 L184.05,444.98 L181.57,446.66 L182.16,449.04 L179.1,447.92 L176.04,449.04 L176.63,446.66 L174.15,444.98 L177.57,444.63Z" fill="#0000ff"/>
<path d="M184.4,441.26 L185.93,443.43 L189.35,443.78 L186.87,445.46 L187.46,447.84 L184.4,446.72 L181.34,447.84 L181.93,445.46 L179.45,443.78 L182.87,443.43Z" fill="#0000ff"/>
<path d="M189.8,452.56 L191.33,454.73 L194.75,455.08 L192.27,456.76 L192.86,459.14 L189.8,458.02 L186.74,459.14 L187.33,456.76 L184.85,455.08 L188.27,454.73Z" fill="#0000ff"/>
<path d="M195.3,471.56 L196.83,473.73 L200.25,474.08 L197.77,475.76 L198.36,478.14 L195.3,477.02 L192.24,478.14 L192.83,475.76 L190.35,474.08 L193.77,473.73Z" fill="#0000ff"/>
<path d="M201,492.56 L202.53,494.73 L205.95,495.08 L203.47,496.76 L204.06,499.14 L201,498.02 L197.94,499.14 L198.53,496.76 L196.05,495.08 L199.47,494.73Z" fill="#0000ff"/>
<path d="M206,509.56 L207.53,511.73 L210.95,512.08 L208.47,513.76 L209.06,516.14 L206,515.02 L202.94,516.14 L203.53,513.76 L201.05,512.08 L204.47,511.73Z" fill="#0000ff"/>
<path d="M211.6,521.66 L213.13,523.83 L216.55,524.18 L214.07,525.86 L214.66,528.24 L211.6,527.12 L208.54,528.24 L209.13,525.86 L206.65,524.18 L210.07,523.83Z" fill="#0000ff"/>
<path d="M217.1,527.26 L218.63,529.43 L222.05,529.78 L219.57,531.46 L220.16,533.84 L217.1,532.72 L214.04,533.84 L214.63,531.46 L212.15,529.78 L215.57,529.43Z" fill="#0000ff"/>
<path d="M222.1,530.16 L223.63,532.33 L227.05,532.68 L224.57,534.36 L225.16,536.74 L222.1,535.62 L219.04,536.74 L219.63,534.36 L217.15,532.68 L220.57,532.33Z" fill="#0000ff"/>
<path d="M227.3,530.76 L228.83,532.93 L232.25,533.28 L229.77,534.96 L230.36,537.34 L227.3,536.22 L224.24,537.34 L224.83,534.96 L222.35,533.28 L225.77,532.93Z" fill="#0000ff"/>
<path d="M232.72,530.76 L234.25,532.93 L237.67,533.28 L235.19,534.96 L235.78,537.34 L232.72,536.22 L229.66,537.34 L230.25,534.96 L227.77,533.28 L231.19,532.93Z" fill="#0000ff"/>
<path d="M238.14,530.76 L239.67,532.93 L243.09,533.28 L240.61,534.96 L241.2,537.34 L238.14,536.22 L235.08,537.34 L235.67,534.96 L233.19,533.28 L236.61,532.93Z" fill="#0000ff"/>
<path d="M243.56,530.76 L245.09,532.93 L248.51,533.28 L246.03,534.96 L246.62,537.34 L243.56,536.22 L240.5,537.34 L241.09,534.96 L238.61,533.28 L242.03,532.93Z" fill="#0000ff"/>
<path d="M248.98,530.76 L250.51,532.93 L253.93,533.28 L251.45,534.96 L252.04,537.34 L248.98,536.22 L245.92,537.34 L246.51,534.96 L244.03,533.28 L247.45,532.93Z" fill="#0000ff"/>
<path d="M254.4,530.76 L255.93,532.93 L259.35,533.28 L256.87,534.96 L257.46,537.34 L254.4,536.22 L251.34,537.34 L251.93,534.96 L249.45,533.28 L252.87,532.93Z" fill="#0000ff"/>
<path d="M301.2,530.26 L302.73,532.43 L306.15,532.78 L303.67,534.46 L304.26,536.84 L301.2,535.72 L298.14,536.84 L298.73,534.46 L296.25,532.78 L299.67,532.43Z" fill="#0000ff"/>
<path d="M306.7,530.26 L308.23,532.43 L311.65,532.78 L309.17,534.46 L309.76,536.84 L306.7,535.72 L303.64,536.84 L304.23,534.46 L301.75,532.78 L305.17,532.43Z" fill="#0000ff"/>
<path d="M312.2,530.26 L313.73,532.43 L317.15,532.78 L314.67,534.46 L315.26,536.84 L312.2,535.72 L309.14,536.84 L309.73,534.46 L307.25,532.78 L310.67,532.43Z" fill="#0000ff"/>
<path d="M317.7,530.26 L319.23,532.43 L322.65,532.78 L320.17,534.46 L320.76,536.84 L317.7,535.72 L314.64,536.84 L315.23,534.46 L312.75,532.78 L316.17,532.43Z" fill="#0000ff"/>
<path d="M323.2,530.26 L324.73,532.43 L328.15,532.78 L325.67,534.46 L326.26,536.84 L323.2,535.72 L320.14,536.84 L320.73,534.46 L318.25,532.78 L321.67,532.43Z" fill="#0000ff"/>
<path d="M328.7,530.26 L330.23,532.43 L333.65,532.78 L331.17,534.46 L331.76,536.84 L328.7,535.72 L325.64,536.84 L326.23,534.46 L323.75,532.78 L327.17,532.43Z" fill="#0000ff"/>
<path d="M334.2,530.26 L335.73,532.43 L339.15,532.78 L336.67,534.46 L337.26,536.84 L334.2,535.72 L331.14,536.84 L331.73,534.46 L329.25,532.78 L332.67,532.43Z" fill="#0000ff"/>
<path d="M339.7,530.26 L341.23,532.43 L344.65,532.78 L342.17,534.46 L342.76,536.84 L339.7,535.72 L336.64,536.84 L337.23,534.46 L334.75,532.78 L338.17,532.43Z" fill="#0000ff"/>
<path d="M344.7,528.76 L346.23,530.93 L349.65,531.28 L347.17,532.96 L347.76,535.34 L344.7,534.22 L341.64,535.34 L342.23,532.96 L339.75,531.28 L343.17,530.93Z" fill="#0000ff"/>
<path d="M350.1,525.86 L351.63,528.03 L355.05,528.38 L352.57,530.06 L353.16,532.44 L350.1,531.32 L347.04,532.44 L347.63,530.06 L345.15,528.38 L348.57,528.03Z" fill="#0000ff"/>
<path d="M355.9,520.06 L357.43,522.23 L360.85,522.58 L358.37,524.26 L358.96,526.64 L355.9,525.52 L352.84,526.64 L353.43,524.26 L350.95,522.58 L354.37,522.23Z" fill="#0000ff"/>
<path d="M361.3,508.96 L362.83,511.13 L366.25,511.48 L363.77,513.16 L364.36,515.54 L361.3,514.42 L358.24,515.54 L358.83,513.16 L356.35,511.48 L359.77,511.13Z" fill="#0000ff"/>
<path d="M366.5,491.06 L368.03,493.23 L371.45,493.58 L368.97,495.26 L369.56,497.64 L366.5,496.52 L363.44,497.64 L364.03,495.26 L361.55,493.58 L364.97,493.23Z" fill="#0000ff"/>
<path d="M372,466.16 L373.53,468.33 L376.95,468.68 L374.47,470.36 L375.06,472.74 L372,471.62 L368.94,472.74 L369.53,470.36 L367.05,468.68 L370.47,468.33Z" fill="#0000ff"/>
<path d="M377.5,438.06 L379.03,440.23 L382.45,440.58 L379.97,442.26 L380.56,444.64 L377.5,443.52 L374.44,444.64 L375.03,442.26 L372.55,440.58 L375.97,440.23Z" fill="#0000ff"/>
<path d="M382.9,411.76 L384.43,413.93 L387.85,414.28 L385.37,415.96 L385.96,418.34 L382.9,417.22 L379.84,418.34 L380.43,415.96 L377.95,414.28 L381.37,413.93Z" fill="#0000ff"/>
<path d="M388.2,397.86 L389.73,400.03 L393.15,400.38 L390.67,402.06 L391.26,404.44 L388.2,403.32 L385.14,404.44 L385.73,402.06 L383.25,400.38 L386.67,400.03Z" fill="#0000ff"/>
<path d="M394.4,397.86 L395.93,400.03 L399.35,400.38 L396.87,402.06 L397.46,404.44 L394.4,403.32 L391.34,404.44 L391.93,402.06 L389.45,400.38 L392.87,400.03Z" fill="#0000ff"/>
<path d="M399.3,413.46 L400.83,415.63 L404.25,415.98 L401.77,417.66 L402.36,420.04 L399.3,418.92 L396.24,420.04 L396.83,417.66 L394.35,415.98 L397.77,415.63Z" fill="#0000ff"/>
<path d="M404.3,439.56 L405.83,441.73 L409.25,442.08 L406.77,443.76 L407.36,446.14 L404.3,445.02 L401.24,446.14 L401.83,443.76 L399.35,442.08 L402.77,441.73Z" fill="#0000ff"/>
<path d="M410,469.16 L411.53,471.33 L414.95,471.68 L412.47,473.36 L413.06,475.74 L410,474.62 L406.94,475.74 L407.53,473.36 L405.05,471.68 L408.47,471.33Z" fill="#0000ff"/>
<path d="M415.5,494.26 L417.03,496.43 L420.45,496.78 L417.97,498.46 L418.56,500.84 L415.5,499.72 L412.44,500.84 L413.03,498.46 L410.55,496.78 L413.97,496.43Z" fill="#0000ff"/>
<path d="M421,511.46 L422.53,513.63 L425.95,513.98 L423.47,515.66 L424.06,518.04 L421,516.92 L417.94,518.04 L418.53,515.66 L416.05,513.98 L419.47,513.63Z" fill="#0000ff"/>
<path d="M426.2,522.06 L427.73,524.23 L431.15,524.58 L428.67,526.26 L429.26,528.64 L426.2,527.52 L423.14,528.64 L423.73,526.26 L421.25,524.58 L424.67,524.23Z" fill="#0000ff"/>
<path d="M431.7,527.86 L433.23,530.03 L436.65,530.38 L434.17,532.06 L434.76,534.44 L431.7,533.32 L428.64,534.44 L429.23,532.06 L426.75,530.38 L430.17,530.03Z" fill="#0000ff"/>
<path d="M437.9,530.26 L439.43,532.43 L442.85,532.78 L440.37,534.46 L440.96,536.84 L437.9,535.72 L434.84,536.84 L435.43,534.46 L432.95,532.78 L436.37,532.43Z" fill="#0000ff"/>
<path d="M442.8,530.26 L444.33,532.43 L447.75,532.78 L445.27,534.46 L445.86,536.84 L442.8,535.72 L439.74,536.84 L440.33,534.46 L437.85,532.78 L441.27,532.43Z" fill="#0000ff"/>
<path d="M800.5,530.46 L802.03,532.63 L805.45,532.98 L802.97,534.66 L803.56,537.04 L800.5,535.92 L797.44,537.04 L798.03,534.66 L795.55,532.98 L798.97,532.63Z" fill="#0000ff"/>
<path d="M805.62,530.46 L807.15,532.63 L810.57,532.98 L808.09,534.66 L808.68,537.04 L805.62,535.92 L802.56,537.04 L803.15,534.66 L800.67,532.98 L804.09,532.63Z" fill="#0000ff"/>
<path d="M810.74,530.46 L812.27,532.63 L815.69,532.98 L813.21,534.66 L813.8,537.04 L810.74,535.92 L807.68,537.04 L808.27,534.66 L805.79,532.98 L809.21,532.63Z" fill="#0000ff"/>
<path d="M815.86,530.46 L817.39,532.63 L820.81,532.98 L818.33,534.66 L818.92,537.04 L815.86,535.92 L812.8,537.04 L813.39,534.66 L810.91,532.98 L814.33,532.63Z" fill="#0000ff"/>
<path d="M820.98,530.46 L822.51,532.63 L825.93,532.98 L823.45,534.66 L824.04,537.04 L820.98,535.92 L817.92,537.04 L818.51,534.66 L816.03,532.98 L819.45,532.63Z" fill="#0000ff"/>
<path d="M826.1,530.46 L827.63,532.63 L831.05,532.98 L828.57,534.66 L829.16,537.04 L826.1,535.92 L823.04,537.04 L823.63,534.66 L821.15,532.98 L824.57,532.63Z" fill="#0000ff"/>
<path d="M831.22,530.46 L832.75,532.63 L836.17,532.98 L833.69,534.66 L834.28,537.04 L831.22,535.92 L828.16,537.04 L828.75,534.66 L826.27,532.98 L829.69,532.63Z" fill="#0000ff"/>
<path d="M836.34,530.46 L837.87,532.63 L841.29,532.98 L838.81,534.66 L839.4,537.04 L836.34,535.92 L833.28,537.04 L833.87,534.66 L831.39,532.98 L834.81,532.63Z" fill="#0000ff"/>
<path d="M841.46,530.46 L842.99,532.63 L846.41,532.98 L843.93,534.66 L844.52,537.04 L841.46,535.92 L838.4,537.04 L838.99,534.66 L836.51,532.98 L839.93,532.63Z" fill="#0000ff"/>
<path d="M846.58,530.46 L848.11,532.63 L851.53,532.98 L849.05,534.66 L849.64,537.04 L846.58,535.92 L843.52,537.04 L844.11,534.66 L841.63,532.98 L845.05,532.63Z" fill="#0000ff"/>
<path d="M851.7,530.46 L853.23,532.63 L856.65,532.98 L854.17,534.66 L854.76,537.04 L851.7,535.92 L848.64,537.04 L849.23,534.66 L846.75,532.98 L850.17,532.63Z" fill="#0000ff"/>
<path d="M856.82,530.46 L858.35,532.63 L861.77,532.98 L859.29,534.66 L859.88,537.04 L856.82,535.92 L853.76,537.04 L854.35,534.66 L851.87,532.98 L855.29,532.63Z" fill="#0000ff"/>
<path d="M861.94,530.46 L863.47,532.63 L866.89,532.98 L864.41,534.66 L865,537.04 L861.94,535.92 L858.88,537.04 L859.47,534.66 L856.99,532.98 L860.41,532.63Z" fill="#0000ff"/>
<path d="M867.06,530.46 L868.59,532.63 L872.01,532.98 L869.53,534.66 L870.12,537.04 L867.06,535.92 L864,537.04 L864.59,534.66 L862.11,532.98 L865.53,532.63Z" fill="#0000ff"/>
<path d="M872.18,530.46 L873.71,532.63 L877.13,532.98 L874.65,534.66 L875.24,537.04 L872.18,535.92 L869.12,537.04 L869.71,534.66 L867.23,532.98 L870.65,532.63Z" fill="#0000ff"/>
<path d="M877.3,530.46 L878.83,532.63 L882.25,532.98 L879.77,534.66 L880.36,537.04 L877.3,535.92 L874.24,537.04 L874.83,534.66 L872.35,532.98 L875.77,532.63Z" fill="#0000ff"/>
<path d="M882.42,530.46 L883.95,532.63 L887.37,532.98 L884.89,534.66 L885.48,537.04 L882.42,535.92 L879.36,537.04 L879.95,534.66 L877.47,532.98 L880.89,532.63Z" fill="#0000ff"/>
<path d="M887.54,530.46 L889.07,532.63 L892.49,532.98 L890.01,534.66 L890.6,537.04 L887.54,535.92 L884.48,537.04 L885.07,534.66 L882.59,532.98 L886.01,532.63Z" fill="#0000ff"/>
<path d="M892.66,530.46 L894.19,532.63 L897.61,532.98 L895.13,534.66 L895.72,537.04 L892.66,535.92 L889.6,537.04 L890.19,534.66 L887.71,532.98 L891.13,532.63Z" fill="#0000ff"/>
<path d="M897.78,530.46 L899.31,532.63 L902.73,532.98 L900.25,534.66 L900.84,537.04 L897.78,535.92 L894.72,537.04 L895.31,534.66 L892.83,532.98 L896.25,532.63Z" fill="#0000ff"/>
<path d="M902.9,530.46 L904.43,532.63 L907.85,532.98 L905.37,534.66 L905.96,537.04 L902.9,535.92 L899.84,537.04 L900.43,534.66 L897.95,532.98 L901.37,532.63Z" fill="#0000ff"/>
<path d="M908.02,530.46 L909.55,532.63 L912.97,532.98 L910.49,534.66 L911.08,537.04 L908.02,535.92 L904.96,537.04 L905.55,534.66 L903.07,532.98 L906.49,532.63Z" fill="#0000ff"/>
<path d="M913.14,530.46 L914.67,532.63 L918.09,532.98 L915.61,534.66 L916.2,537.04 L913.14,535.92 L910.08,537.04 L910.67,534.66 L908.19,532.98 L911.61,532.63Z" fill="#0000ff"/>
<path d="M918.26,530.46 L919.79,532.63 L923.21,532.98 L920.73,534.66 L921.32,537.04 L918.26,535.92 L915.2,537.04 L915.79,534.66 L913.31,532.98 L916.73,532.63Z" fill="#0000ff"/>
<path d="M923.38,530.46 L924.91,532.63 L928.33,532.98 L925.85,534.66 L926.44,537.04 L923.38,535.92 L920.32,537.04 L920.91,534.66 L918.43,532.98 L921.85,532.63Z" fill="#0000ff"/>
<path d="M928.5,530.46 L930.03,532.63 L933.45,532.98 L930.97,534.66 L931.56,537.04 L928.5,535.92 L925.44,537.04 L926.03,534.66 L923.55,532.98 L926.97,532.63Z" fill="#0000ff"/>
<rect x="785.8" y="527.3" width="161.2" height="10.5" stroke="#ff0000" stroke-width="2.2" fill="none"/>
<line x1="785.8" y1="527.3" x2="719.9" y2="493" stroke="#d5364a" stroke-width="1.6" stroke-dasharray="4.6,2.6"/>
<line x1="947.6" y1="526.8" x2="979.3" y2="501.3" stroke="#d5364a" stroke-width="1.6" stroke-dasharray="4.6,2.6"/>
<line x1="116.5" y1="518.2" x2="116.5" y2="528.1" stroke="#1f77b4" stroke-width="2.2"/>
<text x="79.28" y="546" font-size="20.6" textLength="106.9" lengthAdjust="spacingAndGlyphs" fill="#000">Copperline</text>
<line x1="179.5" y1="549.4" x2="179.5" y2="559.2" stroke="#1f77b4" stroke-width="2.2"/>
<text x="155.11" y="577.6" font-size="20.6" textLength="52.17" lengthAdjust="spacingAndGlyphs" fill="#000">(210)</text>
<line x1="394.4" y1="549.4" x2="394.4" y2="559.2" stroke="#1f77b4" stroke-width="2.2"/>
<text x="372.21" y="577.6" font-size="20.6" textLength="52.17" lengthAdjust="spacingAndGlyphs" fill="#000">(201)</text>
<line x1="864.5" y1="549.4" x2="864.5" y2="559.2" stroke="#1f77b4" stroke-width="2.2"/>
<text x="838.79" y="577.6" font-size="20.6" textLength="53.23" lengthAdjust="spacingAndGlyphs" fill="#000">(300)</text>
<rect x="71.5" y="344.1" width="951.5" height="249.6" stroke="#000" stroke-width="2" fill="none"/>
<line x1="165.3" y1="593.7" x2="165.3" y2="587.1" stroke="#000" stroke-width="1.8"/>
<line x1="165.3" y1="344.1" x2="165.3" y2="350.7" stroke="#000" stroke-width="1.8"/>
<text x="152.44" y="612.6" font-size="22" textLength="25.45" lengthAdjust="spacingAndGlyphs" fill="#000">70</text>
<line x1="273.9" y1="593.7" x2="273.9" y2="587.1" stroke="#000" stroke-width="1.8"/>
<line x1="273.9" y1="344.1" x2="273.9" y2="350.7" stroke="#000" stroke-width="1.8"/>
<text x="261.27" y="612.6" font-size="22" textLength="25.04" lengthAdjust="spacingAndGlyphs" fill="#000">75</text>
<line x1="382.5" y1="593.7" x2="382.5" y2="587.1" stroke="#000" stroke-width="1.8"/>
<line x1="382.5" y1="344.1" x2="382.5" y2="350.7" stroke="#000" stroke-width="1.8"/>
<text x="369.66" y="612.6" font-size="22" textLength="25.57" lengthAdjust="spacingAndGlyphs" fill="#000">80</text>
<line x1="491.1" y1="593.7" x2="491.1" y2="587.1" stroke="#000" stroke-width="1.8"/>
<line x1="491.1" y1="344.1" x2="491.1" y2="350.7" stroke="#000" stroke-width="1.8"/>
<text x="478.5" y="612.6" font-size="22" textLength="25.17" lengthAdjust="spacingAndGlyphs" fill="#000">85</text>
<line x1="599.7" y1="593.7" x2="599.7" y2="587.1" stroke="#000" stroke-width="1.8"/>
<line x1="599.7" y1="344.1" x2="599.7" y2="350.7" stroke="#000" stroke-width="1.8"/>
<text x="586.73" y="612.6" font-size="22" textLength="25.77" lengthAdjust="spacingAndGlyphs" fill="#000">90</text>
<line x1="708.3" y1="593.7" x2="708.3" y2="587.1" stroke="#000" stroke-width="1.8"/>
<line x1="708.3" y1="344.1" x2="708.3" y2="350.7" stroke="#000" stroke-width="1.8"/>
<text x="695.56" y="612.6" font-size="22" textLength="25.37" lengthAdjust="spacingAndGlyphs" fill="#000">95</text>
<line x1="816.9" y1="593.7" x2="816.9" y2="587.1" stroke="#000" stroke-width="1.8"/>
<line x1="816.9" y1="344.1" x2="816.9" y2="350.7" stroke="#000" stroke-width="1.8"/>
<text x="797.12" y="612.6" font-size="22" textLength="38.71" lengthAdjust="spacingAndGlyphs" fill="#000">100</text>
<line x1="925.5" y1="593.7" x2="925.5" y2="587.1" stroke="#000" stroke-width="1.8"/>
<line x1="925.5" y1="344.1" x2="925.5" y2="350.7" stroke="#000" stroke-width="1.8"/>
<text x="905.95" y="612.6" font-size="22" textLength="38.31" lengthAdjust="spacingAndGlyphs" fill="#000">105</text>
<line x1="71.5" y1="538.5" x2="78.1" y2="538.5" stroke="#000" stroke-width="1.8"/>
<line x1="1023" y1="538.5" x2="1016.4" y2="538.5" stroke="#000" stroke-width="1.8"/>
<text x="33.67" y="546.7" font-size="22" textLength="32.13" lengthAdjust="spacingAndGlyphs" fill="#000">0.0</text>
<line x1="71.5" y1="461" x2="78.1" y2="461" stroke="#000" stroke-width="1.8"/>
<line x1="1023" y1="461" x2="1016.4" y2="461" stroke="#000" stroke-width="1.8"/>
<text x="34.12" y="469.2" font-size="22" textLength="31.74" lengthAdjust="spacingAndGlyphs" fill="#000">0.5</text>
<line x1="71.5" y1="383.5" x2="78.1" y2="383.5" stroke="#000" stroke-width="1.8"/>
<line x1="1023" y1="383.5" x2="1016.4" y2="383.5" stroke="#000" stroke-width="1.8"/>
<text x="33.73" y="391.7" font-size="22" textLength="32.07" lengthAdjust="spacingAndGlyphs" fill="#000">1.0</text>
<text x="73.72" y="581.6" font-size="23.7" textLength="21.8" lengthAdjust="spacingAndGlyphs" fill="#000">b)</text>
<text x="513.55" y="638.8" font-size="24.4" textLength="66.46" lengthAdjust="spacingAndGlyphs" fill="#000">A4 (°)</text>
<rect x="79.4" y="352.6" width="99.4" height="28.4" rx="3" ry="3" fill="#fff" fill-opacity="0.8" stroke="#d0d0d0" stroke-width="1.2"/>
<path d="M101.7,362.9 L104.7,369.2 L98.7,369.2Z" fill="#0000ff"/>
<path d="M101.7,357.9V374.3M97.2,357.9H106.2M97.2,374.3H106.2" stroke="#0000ff" stroke-width="1.4" fill="none"/>
<text x="132.08" y="370.9" font-size="16.2" textLength="40.12" lengthAdjust="spacingAndGlyphs" fill="#000">NSFz</text>
<rect x="719.9" y="362.8" width="285.1" height="130.2" fill="#fff"/>
<path d="M740.6,396.67 L744.8,403.27 L736.4,403.27Z" fill="#0000ff"/>
<path d="M740.6,397.1V403.5M735.8,397.1H745.4M735.8,403.5H745.4" stroke="#0000ff" stroke-width="1.5" fill="none"/>
<path d="M750.7,421.77 L754.9,428.37 L746.5,428.37Z" fill="#0000ff"/>
<path d="M750.7,422.2V428.6M745.9,422.2H755.5M745.9,428.6H755.5" stroke="#0000ff" stroke-width="1.5" fill="none"/>
<path d="M760.2,426.87 L764.4,433.47 L756,433.47Z" fill="#0000ff"/>
<path d="M760.2,427.3V433.7M755.4,427.3H765M755.4,433.7H765" stroke="#0000ff" stroke-width="1.5" fill="none"/>
<path d="M769.8,429.37 L774,435.97 L765.6,435.97Z" fill="#0000ff"/>
<path d="M769.8,429.8V436.2M765,429.8H774.6M765,436.2H774.6" stroke="#0000ff" stroke-width="1.5" fill="none"/>
<path d="M779.9,434.47 L784.1,441.07 L775.7,441.07Z" fill="#0000ff"/>
<path d="M779.9,434.9V441.3M775.1,434.9H784.7M775.1,441.3H784.7" stroke="#0000ff" stroke-width="1.5" fill="none"/>
<path d="M789.4,431.27 L793.6,437.87 L785.2,437.87Z" fill="#0000ff"/>
<path d="M789.4,431.7V438.1M784.6,431.7H794.2M784.6,438.1H794.2" stroke="#0000ff" stroke-width="1.5" fill="none"/>
<path d="M798.9,435.07 L803.1,441.67 L794.7,441.67Z" fill="#0000ff"/>
<path d="M798.9,435.5V441.9M794.1,435.5H803.7M794.1,441.9H803.7" stroke="#0000ff" stroke-width="1.5" fill="none"/>
<path d="M808.4,429.37 L812.6,435.97 L804.2,435.97Z" fill="#0000ff"/>
<path d="M808.4,429.8V436.2M803.6,429.8H813.2M803.6,436.2H813.2" stroke="#0000ff" stroke-width="1.5" fill="none"/>
<path d="M817.9,436.37 L822.1,442.97 L813.7,442.97Z" fill="#0000ff"/>
<path d="M817.9,436.8V443.2M813.1,436.8H822.7M813.1,443.2H822.7" stroke="#0000ff" stroke-width="1.5" fill="none"/>
<path d="M827.8,434.47 L832,441.07 L823.6,441.07Z" fill="#0000ff"/>
<path d="M827.8,434.9V441.3M823,434.9H832.6M823,441.3H832.6" stroke="#0000ff" stroke-width="1.5" fill="none"/>
<path d="M837.3,433.77 L841.5,440.37 L833.1,440.37Z" fill="#0000ff"/>
<path d="M837.3,434.2V440.6M832.5,434.2H842.1M832.5,440.6H842.1" stroke="#0000ff" stroke-width="1.5" fill="none"/>
<path d="M846.8,436.37 L851,442.97 L842.6,442.97Z" fill="#0000ff"/>
<path d="M846.8,436.8V443.2M842,436.8H851.6M842,443.2H851.6" stroke="#0000ff" stroke-width="1.5" fill="none"/>
<path d="M856.3,434.47 L860.5,441.07 L852.1,441.07Z" fill="#0000ff"/>
<path d="M856.3,434.9V441.3M851.5,434.9H861.1M851.5,441.3H861.1" stroke="#0000ff" stroke-width="1.5" fill="none"/>
<path d="M865.8,432.57 L870,439.17 L861.6,439.17Z" fill="#0000ff"/>
<path d="M865.8,433V439.4M861,433H870.6M861,439.4H870.6" stroke="#0000ff" stroke-width="1.5" fill="none"/>
<path d="M876,436.97 L880.2,443.57 L871.8,443.57Z" fill="#0000ff"/>
<path d="M876,437.4V443.8M871.2,437.4H880.8M871.2,443.8H880.8" stroke="#0000ff" stroke-width="1.5" fill="none"/>
<path d="M885.5,437.57 L889.7,444.17 L881.3,444.17Z" fill="#0000ff"/>
<path d="M885.5,438V444.4M880.7,438H890.3M880.7,444.4H890.3" stroke="#0000ff" stroke-width="1.5" fill="none"/>
<path d="M895.6,437.57 L899.8,444.17 L891.4,444.17Z" fill="#0000ff"/>
<path d="M895.6,438V444.4M890.8,438H900.4M890.8,444.4H900.4" stroke="#0000ff" stroke-width="1.5" fill="none"/>
<path d="M905.1,432.57 L909.3,439.17 L900.9,439.17Z" fill="#0000ff"/>
<path d="M905.1,433V439.4M900.3,433H909.9M900.3,439.4H909.9" stroke="#0000ff" stroke-width="1.5" fill="none"/>
<path d="M914.7,435.07 L918.9,441.67 L910.5,441.67Z" fill="#0000ff"/>
<path d="M914.7,435.5V441.9M909.9,435.5H919.5M909.9,441.9H919.5" stroke="#0000ff" stroke-width="1.5" fill="none"/>
<path d="M924.2,436.97 L928.4,443.57 L920,443.57Z" fill="#0000ff"/>
<path d="M924.2,437.4V443.8M919.4,437.4H929M919.4,443.8H929" stroke="#0000ff" stroke-width="1.5" fill="none"/>
<path d="M933.7,434.47 L937.9,441.07 L929.5,441.07Z" fill="#0000ff"/>
<path d="M933.7,434.9V441.3M928.9,434.9H938.5M928.9,441.3H938.5" stroke="#0000ff" stroke-width="1.5" fill="none"/>
<path d="M943.2,432.57 L947.4,439.17 L939,439.17Z" fill="#0000ff"/>
<path d="M943.2,433V439.4M938.4,433H948M938.4,439.4H948" stroke="#0000ff" stroke-width="1.5" fill="none"/>
<path d="M952.7,433.17 L956.9,439.77 L948.5,439.77Z" fill="#0000ff"/>
<path d="M952.7,433.6V440M947.9,433.6H957.5M947.9,440H957.5" stroke="#0000ff" stroke-width="1.5" fill="none"/>
<path d="M962.5,433.77 L966.7,440.37 L958.3,440.37Z" fill="#0000ff"/>
<path d="M962.5,434.2V440.6M957.7,434.2H967.3M957.7,440.6H967.3" stroke="#0000ff" stroke-width="1.5" fill="none"/>
<path d="M972.7,441.07 L976.9,447.67 L968.5,447.67Z" fill="#0000ff"/>
<path d="M972.7,441.5V447.9M967.9,441.5H977.5M967.9,447.9H977.5" stroke="#0000ff" stroke-width="1.5" fill="none"/>
<rect x="719.9" y="362.8" width="285.1" height="130.2" stroke="#000" stroke-width="2" fill="none"/>
<line x1="773.6" y1="493" x2="773.6" y2="486.2" stroke="#000" stroke-width="1.8"/>
<line x1="773.6" y1="362.8" x2="773.6" y2="369.6" stroke="#000" stroke-width="1.8"/>
<text x="756.42" y="510.5" font-size="19.3" textLength="33.61" lengthAdjust="spacingAndGlyphs" fill="#000">100</text>
<line x1="850.6" y1="493" x2="850.6" y2="486.2" stroke="#000" stroke-width="1.8"/>
<line x1="850.6" y1="362.8" x2="850.6" y2="369.6" stroke="#000" stroke-width="1.8"/>
<text x="833.74" y="510.5" font-size="19.3" textLength="33.2" lengthAdjust="spacingAndGlyphs" fill="#000">102</text>
<line x1="927.6" y1="493" x2="927.6" y2="486.2" stroke="#000" stroke-width="1.8"/>
<line x1="927.6" y1="362.8" x2="927.6" y2="369.6" stroke="#000" stroke-width="1.8"/>
<text x="910.33" y="510.5" font-size="19.3" textLength="33.6" lengthAdjust="spacingAndGlyphs" fill="#000">104</text>
<text x="987.38" y="510.5" font-size="19.3" textLength="33.78" lengthAdjust="spacingAndGlyphs" fill="#000">106</text>
<line x1="719.9" y1="460.6" x2="726.7" y2="460.6" stroke="#000" stroke-width="1.8"/>
<line x1="1005" y1="460.6" x2="998.2" y2="460.6" stroke="#000" stroke-width="1.8"/>
<text x="675.94" y="467.2" font-size="19.3" textLength="39.25" lengthAdjust="spacingAndGlyphs" fill="#000">0.03</text>
<line x1="719.9" y1="395.1" x2="726.7" y2="395.1" stroke="#000" stroke-width="1.8"/>
<line x1="1005" y1="395.1" x2="998.2" y2="395.1" stroke="#000" stroke-width="1.8"/>
<text x="675.5" y="401.7" font-size="19.3" textLength="39.39" lengthAdjust="spacingAndGlyphs" fill="#000">0.04</text>
<text transform="rotate(-90)" x="-617.5" y="21.4" font-size="24.4" textLength="117.66" lengthAdjust="spacingAndGlyphs" fill="#000">Intensity (</text>
<text transform="rotate(-90)" x="-498.75" y="21.4" font-size="24.4" textLength="27" lengthAdjust="spacingAndGlyphs" fill="#000">10</text>
<text transform="rotate(-90)" x="-469.13" y="11.1" font-size="15.6" textLength="7.95" lengthAdjust="spacingAndGlyphs" fill="#000">6</text>
<text transform="rotate(-90)" x="-451.42" y="21.4" font-size="24.4" textLength="82.03" lengthAdjust="spacingAndGlyphs" fill="#000">Mon 2*</text>
<text transform="rotate(-90)" x="-368.96" y="21.4" font-size="24.4" textLength="28.56" lengthAdjust="spacingAndGlyphs" fill="#000">10</text>
<text transform="rotate(-90)" x="-338.57" y="11.1" font-size="15.6" textLength="8.44" lengthAdjust="spacingAndGlyphs" fill="#000">6</text>
<text transform="rotate(-90)" x="-325.81" y="21.4" font-size="24.4" textLength="6.28" lengthAdjust="spacingAndGlyphs" fill="#000">)</text>
</svg>
</body></html>
